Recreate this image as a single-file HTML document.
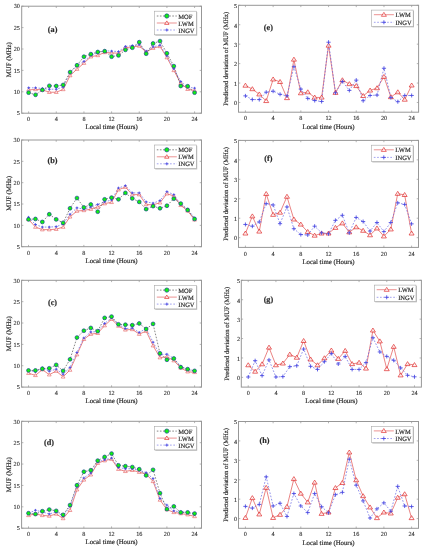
<!DOCTYPE html>
<html><head><meta charset="utf-8"><title>Figure</title>
<style>
html,body{margin:0;padding:0;background:#fff;}
body{width:432px;height:550px;overflow:hidden;}
svg{display:block;will-change:transform;filter:blur(0.4px);}
text{font-family:"Liberation Serif", serif;fill:#2a2a2a;stroke:#2a2a2a;stroke-width:0.18px;text-rendering:geometricPrecision;}
.tk{stroke-width:0.1px;}
</style></head>
<body>
<svg width="432" height="550" viewBox="0 0 432 550">
<rect width="432" height="550" fill="#fff"/>
<rect x="21.7" y="6.2" width="179.8" height="107" fill="none" stroke="#979797" stroke-width="1"/>
<path d="M28.62 113.2v-1.8M28.62 6.2v1.8M56.28 113.2v-1.8M56.28 6.2v1.8M83.94 113.2v-1.8M83.94 6.2v1.8M111.6 113.2v-1.8M111.6 6.2v1.8M139.26 113.2v-1.8M139.26 6.2v1.8M166.92 113.2v-1.8M166.92 6.2v1.8M194.58 113.2v-1.8M194.58 6.2v1.8M21.7 113.2h1.8M201.5 113.2h-1.8M21.7 91.8h1.8M201.5 91.8h-1.8M21.7 70.4h1.8M201.5 70.4h-1.8M21.7 49h1.8M201.5 49h-1.8M21.7 27.6h1.8M201.5 27.6h-1.8M21.7 6.2h1.8M201.5 6.2h-1.8" stroke="#979797" stroke-width="0.7" fill="none"/>
<text x="28.62" y="121.3" text-anchor="middle" font-size="6.2" class="tk">0</text>
<text x="56.28" y="121.3" text-anchor="middle" font-size="6.2" class="tk">4</text>
<text x="83.94" y="121.3" text-anchor="middle" font-size="6.2" class="tk">8</text>
<text x="111.6" y="121.3" text-anchor="middle" font-size="6.2" class="tk">12</text>
<text x="139.26" y="121.3" text-anchor="middle" font-size="6.2" class="tk">16</text>
<text x="166.92" y="121.3" text-anchor="middle" font-size="6.2" class="tk">20</text>
<text x="194.58" y="121.3" text-anchor="middle" font-size="6.2" class="tk">24</text>
<text x="19.9" y="115.4" text-anchor="end" font-size="6.2" class="tk">5</text>
<text x="19.9" y="94" text-anchor="end" font-size="6.2" class="tk">10</text>
<text x="19.9" y="72.6" text-anchor="end" font-size="6.2" class="tk">15</text>
<text x="19.9" y="51.2" text-anchor="end" font-size="6.2" class="tk">20</text>
<text x="19.9" y="29.8" text-anchor="end" font-size="6.2" class="tk">25</text>
<text x="19.9" y="8.4" text-anchor="end" font-size="6.2" class="tk">30</text>
<text x="111.6" y="129.1" text-anchor="middle" font-size="6.8">Local time (Hours)</text>
<text transform="translate(11.1 59.7) rotate(-90)" text-anchor="middle" font-size="6.8">MUF (MHz)</text>
<polyline points="28.62,89.87 35.53,89.45 42.45,89.87 49.36,92.23 56.28,92.23 63.19,89.45 70.11,75.54 77.02,69.12 83.94,63.12 90.85,56.7 97.77,55.42 104.68,52.42 111.6,52.85 118.52,53.28 125.43,47.72 132.35,46.86 139.26,46 146.18,52 153.09,48.14 160.01,46.43 166.92,57.56 173.84,70.4 180.75,83.24 187.67,89.23 194.58,90.52" fill="none" stroke="#e46464" stroke-width="0.8"/>
<polyline points="28.62,87.82 35.53,87.82 42.45,88.5 49.36,89.23 56.28,89.23 63.19,87.09 70.11,72.54 77.02,65.69 83.94,61.41 90.85,55.42 97.77,52.85 104.68,50.71 111.6,51.14 118.52,51.57 125.43,46.43 132.35,45.58 139.26,44.72 146.18,51.14 153.09,46.86 160.01,45.15 166.92,55.85 173.84,68.69 180.75,81.53 187.67,87.09 194.58,88.16" fill="none" stroke="#6464e4" stroke-width="0.7" stroke-dasharray="1.7 1.6"/>
<polyline points="28.62,92.66 35.53,94.8 42.45,89.87 49.36,85.81 56.28,86.02 63.19,84.95 70.11,72.11 77.02,65.26 83.94,56.7 90.85,54.14 97.77,52 104.68,51.14 111.6,56.7 118.52,55.42 125.43,49.86 132.35,47.72 139.26,42.15 146.18,53.71 153.09,43.44 160.01,41.08 166.92,53.28 173.84,66.12 180.75,86.02 187.67,86.24 194.58,92.66" fill="none" stroke="#454545" stroke-width="0.65" stroke-dasharray="1.6 1.5"/>
<path d="M28.62 88.07L26.72 91.11L30.52 91.11Z" fill="#fff" fill-opacity="0.6" stroke="#e45a5a" stroke-width="0.6"/>
<path d="M35.53 87.64L33.63 90.68L37.43 90.68Z" fill="#fff" fill-opacity="0.6" stroke="#e45a5a" stroke-width="0.6"/>
<path d="M42.45 88.07L40.55 91.11L44.35 91.11Z" fill="#fff" fill-opacity="0.6" stroke="#e45a5a" stroke-width="0.6"/>
<path d="M49.36 90.42L47.46 93.46L51.26 93.46Z" fill="#fff" fill-opacity="0.6" stroke="#e45a5a" stroke-width="0.6"/>
<path d="M56.28 90.42L54.38 93.46L58.18 93.46Z" fill="#fff" fill-opacity="0.6" stroke="#e45a5a" stroke-width="0.6"/>
<path d="M63.19 87.64L61.29 90.68L65.09 90.68Z" fill="#fff" fill-opacity="0.6" stroke="#e45a5a" stroke-width="0.6"/>
<path d="M70.11 73.73L68.21 76.77L72.01 76.77Z" fill="#fff" fill-opacity="0.6" stroke="#e45a5a" stroke-width="0.6"/>
<path d="M77.02 67.31L75.12 70.35L78.92 70.35Z" fill="#fff" fill-opacity="0.6" stroke="#e45a5a" stroke-width="0.6"/>
<path d="M83.94 61.32L82.04 64.36L85.84 64.36Z" fill="#fff" fill-opacity="0.6" stroke="#e45a5a" stroke-width="0.6"/>
<path d="M90.85 54.9L88.95 57.94L92.75 57.94Z" fill="#fff" fill-opacity="0.6" stroke="#e45a5a" stroke-width="0.6"/>
<path d="M97.77 53.62L95.87 56.66L99.67 56.66Z" fill="#fff" fill-opacity="0.6" stroke="#e45a5a" stroke-width="0.6"/>
<path d="M104.68 50.62L102.78 53.66L106.58 53.66Z" fill="#fff" fill-opacity="0.6" stroke="#e45a5a" stroke-width="0.6"/>
<path d="M111.6 51.05L109.7 54.09L113.5 54.09Z" fill="#fff" fill-opacity="0.6" stroke="#e45a5a" stroke-width="0.6"/>
<path d="M118.52 51.48L116.62 54.52L120.42 54.52Z" fill="#fff" fill-opacity="0.6" stroke="#e45a5a" stroke-width="0.6"/>
<path d="M125.43 45.91L123.53 48.95L127.33 48.95Z" fill="#fff" fill-opacity="0.6" stroke="#e45a5a" stroke-width="0.6"/>
<path d="M132.35 45.05L130.45 48.09L134.25 48.09Z" fill="#fff" fill-opacity="0.6" stroke="#e45a5a" stroke-width="0.6"/>
<path d="M139.26 44.2L137.36 47.24L141.16 47.24Z" fill="#fff" fill-opacity="0.6" stroke="#e45a5a" stroke-width="0.6"/>
<path d="M146.18 50.19L144.28 53.23L148.08 53.23Z" fill="#fff" fill-opacity="0.6" stroke="#e45a5a" stroke-width="0.6"/>
<path d="M153.09 46.34L151.19 49.38L154.99 49.38Z" fill="#fff" fill-opacity="0.6" stroke="#e45a5a" stroke-width="0.6"/>
<path d="M160.01 44.63L158.11 47.67L161.91 47.67Z" fill="#fff" fill-opacity="0.6" stroke="#e45a5a" stroke-width="0.6"/>
<path d="M166.92 55.76L165.02 58.8L168.82 58.8Z" fill="#fff" fill-opacity="0.6" stroke="#e45a5a" stroke-width="0.6"/>
<path d="M173.84 68.59L171.94 71.64L175.74 71.64Z" fill="#fff" fill-opacity="0.6" stroke="#e45a5a" stroke-width="0.6"/>
<path d="M180.75 81.44L178.85 84.48L182.65 84.48Z" fill="#fff" fill-opacity="0.6" stroke="#e45a5a" stroke-width="0.6"/>
<path d="M187.67 87.43L185.77 90.47L189.57 90.47Z" fill="#fff" fill-opacity="0.6" stroke="#e45a5a" stroke-width="0.6"/>
<path d="M194.58 88.71L192.68 91.75L196.48 91.75Z" fill="#fff" fill-opacity="0.6" stroke="#e45a5a" stroke-width="0.6"/>
<path d="M27.22 87.82h2.8M28.62 86.49v2.66" stroke="#4646e2" stroke-width="0.85"/>
<path d="M34.13 87.82h2.8M35.53 86.49v2.66" stroke="#4646e2" stroke-width="0.85"/>
<path d="M41.05 88.5h2.8M42.45 87.17v2.66" stroke="#4646e2" stroke-width="0.85"/>
<path d="M47.96 89.23h2.8M49.36 87.9v2.66" stroke="#4646e2" stroke-width="0.85"/>
<path d="M54.88 89.23h2.8M56.28 87.9v2.66" stroke="#4646e2" stroke-width="0.85"/>
<path d="M61.79 87.09h2.8M63.19 85.76v2.66" stroke="#4646e2" stroke-width="0.85"/>
<path d="M68.71 72.54h2.8M70.11 71.21v2.66" stroke="#4646e2" stroke-width="0.85"/>
<path d="M75.62 65.69h2.8M77.02 64.36v2.66" stroke="#4646e2" stroke-width="0.85"/>
<path d="M82.54 61.41h2.8M83.94 60.08v2.66" stroke="#4646e2" stroke-width="0.85"/>
<path d="M89.45 55.42h2.8M90.85 54.09v2.66" stroke="#4646e2" stroke-width="0.85"/>
<path d="M96.37 52.85h2.8M97.77 51.52v2.66" stroke="#4646e2" stroke-width="0.85"/>
<path d="M103.28 50.71h2.8M104.68 49.38v2.66" stroke="#4646e2" stroke-width="0.85"/>
<path d="M110.2 51.14h2.8M111.6 49.81v2.66" stroke="#4646e2" stroke-width="0.85"/>
<path d="M117.12 51.57h2.8M118.52 50.24v2.66" stroke="#4646e2" stroke-width="0.85"/>
<path d="M124.03 46.43h2.8M125.43 45.1v2.66" stroke="#4646e2" stroke-width="0.85"/>
<path d="M130.95 45.58h2.8M132.35 44.25v2.66" stroke="#4646e2" stroke-width="0.85"/>
<path d="M137.86 44.72h2.8M139.26 43.39v2.66" stroke="#4646e2" stroke-width="0.85"/>
<path d="M144.78 51.14h2.8M146.18 49.81v2.66" stroke="#4646e2" stroke-width="0.85"/>
<path d="M151.69 46.86h2.8M153.09 45.53v2.66" stroke="#4646e2" stroke-width="0.85"/>
<path d="M158.61 45.15h2.8M160.01 43.82v2.66" stroke="#4646e2" stroke-width="0.85"/>
<path d="M165.52 55.85h2.8M166.92 54.52v2.66" stroke="#4646e2" stroke-width="0.85"/>
<path d="M172.44 68.69h2.8M173.84 67.36v2.66" stroke="#4646e2" stroke-width="0.85"/>
<path d="M179.35 81.53h2.8M180.75 80.2v2.66" stroke="#4646e2" stroke-width="0.85"/>
<path d="M186.27 87.09h2.8M187.67 85.76v2.66" stroke="#4646e2" stroke-width="0.85"/>
<path d="M193.18 88.16h2.8M194.58 86.83v2.66" stroke="#4646e2" stroke-width="0.85"/>
<circle cx="28.62" cy="92.66" r="1.9" fill="#10f010" stroke="#1a4690" stroke-width="0.7"/>
<circle cx="35.53" cy="94.8" r="1.9" fill="#10f010" stroke="#1a4690" stroke-width="0.7"/>
<circle cx="42.45" cy="89.87" r="1.9" fill="#10f010" stroke="#1a4690" stroke-width="0.7"/>
<circle cx="49.36" cy="85.81" r="1.9" fill="#10f010" stroke="#1a4690" stroke-width="0.7"/>
<circle cx="56.28" cy="86.02" r="1.9" fill="#10f010" stroke="#1a4690" stroke-width="0.7"/>
<circle cx="63.19" cy="84.95" r="1.9" fill="#10f010" stroke="#1a4690" stroke-width="0.7"/>
<circle cx="70.11" cy="72.11" r="1.9" fill="#10f010" stroke="#1a4690" stroke-width="0.7"/>
<circle cx="77.02" cy="65.26" r="1.9" fill="#10f010" stroke="#1a4690" stroke-width="0.7"/>
<circle cx="83.94" cy="56.7" r="1.9" fill="#10f010" stroke="#1a4690" stroke-width="0.7"/>
<circle cx="90.85" cy="54.14" r="1.9" fill="#10f010" stroke="#1a4690" stroke-width="0.7"/>
<circle cx="97.77" cy="52" r="1.9" fill="#10f010" stroke="#1a4690" stroke-width="0.7"/>
<circle cx="104.68" cy="51.14" r="1.9" fill="#10f010" stroke="#1a4690" stroke-width="0.7"/>
<circle cx="111.6" cy="56.7" r="1.9" fill="#10f010" stroke="#1a4690" stroke-width="0.7"/>
<circle cx="118.52" cy="55.42" r="1.9" fill="#10f010" stroke="#1a4690" stroke-width="0.7"/>
<circle cx="125.43" cy="49.86" r="1.9" fill="#10f010" stroke="#1a4690" stroke-width="0.7"/>
<circle cx="132.35" cy="47.72" r="1.9" fill="#10f010" stroke="#1a4690" stroke-width="0.7"/>
<circle cx="139.26" cy="42.15" r="1.9" fill="#10f010" stroke="#1a4690" stroke-width="0.7"/>
<circle cx="146.18" cy="53.71" r="1.9" fill="#10f010" stroke="#1a4690" stroke-width="0.7"/>
<circle cx="153.09" cy="43.44" r="1.9" fill="#10f010" stroke="#1a4690" stroke-width="0.7"/>
<circle cx="160.01" cy="41.08" r="1.9" fill="#10f010" stroke="#1a4690" stroke-width="0.7"/>
<circle cx="166.92" cy="53.28" r="1.9" fill="#10f010" stroke="#1a4690" stroke-width="0.7"/>
<circle cx="173.84" cy="66.12" r="1.9" fill="#10f010" stroke="#1a4690" stroke-width="0.7"/>
<circle cx="180.75" cy="86.02" r="1.9" fill="#10f010" stroke="#1a4690" stroke-width="0.7"/>
<circle cx="187.67" cy="86.24" r="1.9" fill="#10f010" stroke="#1a4690" stroke-width="0.7"/>
<circle cx="194.58" cy="92.66" r="1.9" fill="#10f010" stroke="#1a4690" stroke-width="0.7"/>
<rect x="155.3" y="12" width="41.9" height="23.6" fill="#b4b4b4"/>
<rect x="154.5" y="11.2" width="41.9" height="23.6" fill="#fff" stroke="#a8a8a8" stroke-width="0.6"/>
<path d="M156.8 16H176.8" stroke="#454545" stroke-width="0.65" stroke-dasharray="1.6 1.5"/>
<circle cx="166.8" cy="16" r="2.15" fill="#10f010" stroke="#1a4690" stroke-width="0.7"/>
<text x="178.3" y="18.6" font-size="6.5">MOF</text>
<path d="M156.8 23H176.8" stroke="#e46464" stroke-width="0.7"/>
<path d="M166.8 20.91L164.6 24.43L169 24.43Z" fill="#fff" fill-opacity="0.6" stroke="#e02828" stroke-width="0.65"/>
<text x="178.3" y="25.6" font-size="6.5">LWM</text>
<path d="M156.8 30H176.8" stroke="#6464e4" stroke-width="0.6" stroke-dasharray="1.7 1.6"/>
<path d="M165.2 30h3.2M166.8 28.48v3.04" stroke="#4646e2" stroke-width="0.85"/>
<text x="178.3" y="32.6" font-size="6.5">INGV</text>
<text x="52.6" y="32.3" text-anchor="middle" font-size="8.2" font-weight="bold">(a)</text>
<rect x="21.6" y="140" width="179.9" height="106.7" fill="none" stroke="#979797" stroke-width="1"/>
<path d="M28.52 246.7v-1.8M28.52 140v1.8M56.2 246.7v-1.8M56.2 140v1.8M83.87 246.7v-1.8M83.87 140v1.8M111.55 246.7v-1.8M111.55 140v1.8M139.23 246.7v-1.8M139.23 140v1.8M166.9 246.7v-1.8M166.9 140v1.8M194.58 246.7v-1.8M194.58 140v1.8M21.6 246.7h1.8M201.5 246.7h-1.8M21.6 225.36h1.8M201.5 225.36h-1.8M21.6 204.02h1.8M201.5 204.02h-1.8M21.6 182.68h1.8M201.5 182.68h-1.8M21.6 161.34h1.8M201.5 161.34h-1.8M21.6 140h1.8M201.5 140h-1.8" stroke="#979797" stroke-width="0.7" fill="none"/>
<text x="28.52" y="254.8" text-anchor="middle" font-size="6.2" class="tk">0</text>
<text x="56.2" y="254.8" text-anchor="middle" font-size="6.2" class="tk">4</text>
<text x="83.87" y="254.8" text-anchor="middle" font-size="6.2" class="tk">8</text>
<text x="111.55" y="254.8" text-anchor="middle" font-size="6.2" class="tk">12</text>
<text x="139.23" y="254.8" text-anchor="middle" font-size="6.2" class="tk">16</text>
<text x="166.9" y="254.8" text-anchor="middle" font-size="6.2" class="tk">20</text>
<text x="194.58" y="254.8" text-anchor="middle" font-size="6.2" class="tk">24</text>
<text x="19.8" y="248.9" text-anchor="end" font-size="6.2" class="tk">5</text>
<text x="19.8" y="227.56" text-anchor="end" font-size="6.2" class="tk">10</text>
<text x="19.8" y="206.22" text-anchor="end" font-size="6.2" class="tk">15</text>
<text x="19.8" y="184.88" text-anchor="end" font-size="6.2" class="tk">20</text>
<text x="19.8" y="163.54" text-anchor="end" font-size="6.2" class="tk">25</text>
<text x="19.8" y="142.2" text-anchor="end" font-size="6.2" class="tk">30</text>
<text x="111.55" y="262.6" text-anchor="middle" font-size="6.8">Local time (Hours)</text>
<text transform="translate(11 193.35) rotate(-90)" text-anchor="middle" font-size="6.8">MUF (MHz)</text>
<polyline points="28.52,219.38 35.44,227.07 42.36,229.63 49.28,229.63 56.2,229.2 63.12,227.07 70.03,216.82 76.95,211.06 83.87,210.42 90.79,209.14 97.71,207.01 104.63,203.59 111.55,202.31 118.47,189.72 125.39,187.16 132.31,194.63 139.23,194.63 146.15,204.45 153.07,204.87 159.98,202.74 166.9,193.78 173.82,195.91 180.74,205.3 187.66,210.85 194.58,219.81" fill="none" stroke="#e46464" stroke-width="0.8"/>
<polyline points="28.52,217.25 35.44,224.51 42.36,227.07 49.28,227.07 56.2,226.64 63.12,224.08 70.03,214.26 76.95,207.86 83.87,209.14 90.79,207.01 97.71,204.45 104.63,201.89 111.55,199.97 118.47,188.01 125.39,185.67 132.31,192.92 139.23,192.92 146.15,201.89 153.07,203.17 159.98,200.61 166.9,191.64 173.82,194.63 180.74,204.45 187.66,209.14 194.58,218.1" fill="none" stroke="#6464e4" stroke-width="0.7" stroke-dasharray="1.7 1.6"/>
<polyline points="28.52,219.38 35.44,218.96 42.36,221.95 49.28,214.26 56.2,219.38 63.12,222.8 70.03,208.29 76.95,198.04 83.87,207.43 90.79,204.45 97.71,211.7 104.63,199.33 111.55,197.62 118.47,199.33 125.39,192.92 132.31,198.47 139.23,201.89 146.15,209.14 153.07,206.15 159.98,208.29 166.9,205.73 173.82,198.69 180.74,203.59 187.66,210 194.58,218.96" fill="none" stroke="#454545" stroke-width="0.65" stroke-dasharray="1.6 1.5"/>
<path d="M28.52 217.58L26.62 220.62L30.42 220.62Z" fill="#fff" fill-opacity="0.6" stroke="#e45a5a" stroke-width="0.6"/>
<path d="M35.44 225.26L33.54 228.3L37.34 228.3Z" fill="#fff" fill-opacity="0.6" stroke="#e45a5a" stroke-width="0.6"/>
<path d="M42.36 227.82L40.46 230.86L44.26 230.86Z" fill="#fff" fill-opacity="0.6" stroke="#e45a5a" stroke-width="0.6"/>
<path d="M49.28 227.82L47.38 230.86L51.18 230.86Z" fill="#fff" fill-opacity="0.6" stroke="#e45a5a" stroke-width="0.6"/>
<path d="M56.2 227.4L54.3 230.44L58.1 230.44Z" fill="#fff" fill-opacity="0.6" stroke="#e45a5a" stroke-width="0.6"/>
<path d="M63.12 225.26L61.22 228.3L65.02 228.3Z" fill="#fff" fill-opacity="0.6" stroke="#e45a5a" stroke-width="0.6"/>
<path d="M70.03 215.02L68.13 218.06L71.93 218.06Z" fill="#fff" fill-opacity="0.6" stroke="#e45a5a" stroke-width="0.6"/>
<path d="M76.95 209.26L75.05 212.3L78.85 212.3Z" fill="#fff" fill-opacity="0.6" stroke="#e45a5a" stroke-width="0.6"/>
<path d="M83.87 208.62L81.97 211.66L85.77 211.66Z" fill="#fff" fill-opacity="0.6" stroke="#e45a5a" stroke-width="0.6"/>
<path d="M90.79 207.34L88.89 210.38L92.69 210.38Z" fill="#fff" fill-opacity="0.6" stroke="#e45a5a" stroke-width="0.6"/>
<path d="M97.71 205.2L95.81 208.24L99.61 208.24Z" fill="#fff" fill-opacity="0.6" stroke="#e45a5a" stroke-width="0.6"/>
<path d="M104.63 201.79L102.73 204.83L106.53 204.83Z" fill="#fff" fill-opacity="0.6" stroke="#e45a5a" stroke-width="0.6"/>
<path d="M111.55 200.51L109.65 203.55L113.45 203.55Z" fill="#fff" fill-opacity="0.6" stroke="#e45a5a" stroke-width="0.6"/>
<path d="M118.47 187.92L116.57 190.96L120.37 190.96Z" fill="#fff" fill-opacity="0.6" stroke="#e45a5a" stroke-width="0.6"/>
<path d="M125.39 185.36L123.49 188.4L127.29 188.4Z" fill="#fff" fill-opacity="0.6" stroke="#e45a5a" stroke-width="0.6"/>
<path d="M132.31 192.83L130.41 195.87L134.21 195.87Z" fill="#fff" fill-opacity="0.6" stroke="#e45a5a" stroke-width="0.6"/>
<path d="M139.23 192.83L137.33 195.87L141.13 195.87Z" fill="#fff" fill-opacity="0.6" stroke="#e45a5a" stroke-width="0.6"/>
<path d="M146.15 202.64L144.25 205.68L148.05 205.68Z" fill="#fff" fill-opacity="0.6" stroke="#e45a5a" stroke-width="0.6"/>
<path d="M153.07 203.07L151.17 206.11L154.97 206.11Z" fill="#fff" fill-opacity="0.6" stroke="#e45a5a" stroke-width="0.6"/>
<path d="M159.98 200.93L158.08 203.97L161.88 203.97Z" fill="#fff" fill-opacity="0.6" stroke="#e45a5a" stroke-width="0.6"/>
<path d="M166.9 191.97L165 195.01L168.8 195.01Z" fill="#fff" fill-opacity="0.6" stroke="#e45a5a" stroke-width="0.6"/>
<path d="M173.82 194.11L171.92 197.15L175.72 197.15Z" fill="#fff" fill-opacity="0.6" stroke="#e45a5a" stroke-width="0.6"/>
<path d="M180.74 203.5L178.84 206.54L182.64 206.54Z" fill="#fff" fill-opacity="0.6" stroke="#e45a5a" stroke-width="0.6"/>
<path d="M187.66 209.04L185.76 212.08L189.56 212.08Z" fill="#fff" fill-opacity="0.6" stroke="#e45a5a" stroke-width="0.6"/>
<path d="M194.58 218.01L192.68 221.05L196.48 221.05Z" fill="#fff" fill-opacity="0.6" stroke="#e45a5a" stroke-width="0.6"/>
<path d="M27.12 217.25h2.8M28.52 215.92v2.66" stroke="#4646e2" stroke-width="0.85"/>
<path d="M34.04 224.51h2.8M35.44 223.18v2.66" stroke="#4646e2" stroke-width="0.85"/>
<path d="M40.96 227.07h2.8M42.36 225.74v2.66" stroke="#4646e2" stroke-width="0.85"/>
<path d="M47.88 227.07h2.8M49.28 225.74v2.66" stroke="#4646e2" stroke-width="0.85"/>
<path d="M54.8 226.64h2.8M56.2 225.31v2.66" stroke="#4646e2" stroke-width="0.85"/>
<path d="M61.72 224.08h2.8M63.12 222.75v2.66" stroke="#4646e2" stroke-width="0.85"/>
<path d="M68.63 214.26h2.8M70.03 212.93v2.66" stroke="#4646e2" stroke-width="0.85"/>
<path d="M75.55 207.86h2.8M76.95 206.53v2.66" stroke="#4646e2" stroke-width="0.85"/>
<path d="M82.47 209.14h2.8M83.87 207.81v2.66" stroke="#4646e2" stroke-width="0.85"/>
<path d="M89.39 207.01h2.8M90.79 205.68v2.66" stroke="#4646e2" stroke-width="0.85"/>
<path d="M96.31 204.45h2.8M97.71 203.12v2.66" stroke="#4646e2" stroke-width="0.85"/>
<path d="M103.23 201.89h2.8M104.63 200.56v2.66" stroke="#4646e2" stroke-width="0.85"/>
<path d="M110.15 199.97h2.8M111.55 198.64v2.66" stroke="#4646e2" stroke-width="0.85"/>
<path d="M117.07 188.01h2.8M118.47 186.68v2.66" stroke="#4646e2" stroke-width="0.85"/>
<path d="M123.99 185.67h2.8M125.39 184.34v2.66" stroke="#4646e2" stroke-width="0.85"/>
<path d="M130.91 192.92h2.8M132.31 191.59v2.66" stroke="#4646e2" stroke-width="0.85"/>
<path d="M137.83 192.92h2.8M139.23 191.59v2.66" stroke="#4646e2" stroke-width="0.85"/>
<path d="M144.75 201.89h2.8M146.15 200.56v2.66" stroke="#4646e2" stroke-width="0.85"/>
<path d="M151.67 203.17h2.8M153.07 201.84v2.66" stroke="#4646e2" stroke-width="0.85"/>
<path d="M158.58 200.61h2.8M159.98 199.28v2.66" stroke="#4646e2" stroke-width="0.85"/>
<path d="M165.5 191.64h2.8M166.9 190.31v2.66" stroke="#4646e2" stroke-width="0.85"/>
<path d="M172.42 194.63h2.8M173.82 193.3v2.66" stroke="#4646e2" stroke-width="0.85"/>
<path d="M179.34 204.45h2.8M180.74 203.12v2.66" stroke="#4646e2" stroke-width="0.85"/>
<path d="M186.26 209.14h2.8M187.66 207.81v2.66" stroke="#4646e2" stroke-width="0.85"/>
<path d="M193.18 218.1h2.8M194.58 216.77v2.66" stroke="#4646e2" stroke-width="0.85"/>
<circle cx="28.52" cy="219.38" r="1.9" fill="#10f010" stroke="#1a4690" stroke-width="0.7"/>
<circle cx="35.44" cy="218.96" r="1.9" fill="#10f010" stroke="#1a4690" stroke-width="0.7"/>
<circle cx="42.36" cy="221.95" r="1.9" fill="#10f010" stroke="#1a4690" stroke-width="0.7"/>
<circle cx="49.28" cy="214.26" r="1.9" fill="#10f010" stroke="#1a4690" stroke-width="0.7"/>
<circle cx="56.2" cy="219.38" r="1.9" fill="#10f010" stroke="#1a4690" stroke-width="0.7"/>
<circle cx="63.12" cy="222.8" r="1.9" fill="#10f010" stroke="#1a4690" stroke-width="0.7"/>
<circle cx="70.03" cy="208.29" r="1.9" fill="#10f010" stroke="#1a4690" stroke-width="0.7"/>
<circle cx="76.95" cy="198.04" r="1.9" fill="#10f010" stroke="#1a4690" stroke-width="0.7"/>
<circle cx="83.87" cy="207.43" r="1.9" fill="#10f010" stroke="#1a4690" stroke-width="0.7"/>
<circle cx="90.79" cy="204.45" r="1.9" fill="#10f010" stroke="#1a4690" stroke-width="0.7"/>
<circle cx="97.71" cy="211.7" r="1.9" fill="#10f010" stroke="#1a4690" stroke-width="0.7"/>
<circle cx="104.63" cy="199.33" r="1.9" fill="#10f010" stroke="#1a4690" stroke-width="0.7"/>
<circle cx="111.55" cy="197.62" r="1.9" fill="#10f010" stroke="#1a4690" stroke-width="0.7"/>
<circle cx="118.47" cy="199.33" r="1.9" fill="#10f010" stroke="#1a4690" stroke-width="0.7"/>
<circle cx="125.39" cy="192.92" r="1.9" fill="#10f010" stroke="#1a4690" stroke-width="0.7"/>
<circle cx="132.31" cy="198.47" r="1.9" fill="#10f010" stroke="#1a4690" stroke-width="0.7"/>
<circle cx="139.23" cy="201.89" r="1.9" fill="#10f010" stroke="#1a4690" stroke-width="0.7"/>
<circle cx="146.15" cy="209.14" r="1.9" fill="#10f010" stroke="#1a4690" stroke-width="0.7"/>
<circle cx="153.07" cy="206.15" r="1.9" fill="#10f010" stroke="#1a4690" stroke-width="0.7"/>
<circle cx="159.98" cy="208.29" r="1.9" fill="#10f010" stroke="#1a4690" stroke-width="0.7"/>
<circle cx="166.9" cy="205.73" r="1.9" fill="#10f010" stroke="#1a4690" stroke-width="0.7"/>
<circle cx="173.82" cy="198.69" r="1.9" fill="#10f010" stroke="#1a4690" stroke-width="0.7"/>
<circle cx="180.74" cy="203.59" r="1.9" fill="#10f010" stroke="#1a4690" stroke-width="0.7"/>
<circle cx="187.66" cy="210" r="1.9" fill="#10f010" stroke="#1a4690" stroke-width="0.7"/>
<circle cx="194.58" cy="218.96" r="1.9" fill="#10f010" stroke="#1a4690" stroke-width="0.7"/>
<rect x="155.3" y="145.8" width="41.9" height="23.6" fill="#b4b4b4"/>
<rect x="154.5" y="145" width="41.9" height="23.6" fill="#fff" stroke="#a8a8a8" stroke-width="0.6"/>
<path d="M156.8 149.8H176.8" stroke="#454545" stroke-width="0.65" stroke-dasharray="1.6 1.5"/>
<circle cx="166.8" cy="149.8" r="2.15" fill="#10f010" stroke="#1a4690" stroke-width="0.7"/>
<text x="178.3" y="152.4" font-size="6.5">MOF</text>
<path d="M156.8 156.8H176.8" stroke="#e46464" stroke-width="0.7"/>
<path d="M166.8 154.71L164.6 158.23L169 158.23Z" fill="#fff" fill-opacity="0.6" stroke="#e02828" stroke-width="0.65"/>
<text x="178.3" y="159.4" font-size="6.5">LWM</text>
<path d="M156.8 163.8H176.8" stroke="#6464e4" stroke-width="0.6" stroke-dasharray="1.7 1.6"/>
<path d="M165.2 163.8h3.2M166.8 162.28v3.04" stroke="#4646e2" stroke-width="0.85"/>
<text x="178.3" y="166.4" font-size="6.5">INGV</text>
<text x="52.6" y="162.6" text-anchor="middle" font-size="8.2" font-weight="bold">(b)</text>
<rect x="21.6" y="280.3" width="179.9" height="106.8" fill="none" stroke="#979797" stroke-width="1"/>
<path d="M28.52 387.1v-1.8M28.52 280.3v1.8M56.2 387.1v-1.8M56.2 280.3v1.8M83.87 387.1v-1.8M83.87 280.3v1.8M111.55 387.1v-1.8M111.55 280.3v1.8M139.23 387.1v-1.8M139.23 280.3v1.8M166.9 387.1v-1.8M166.9 280.3v1.8M194.58 387.1v-1.8M194.58 280.3v1.8M21.6 387.1h1.8M201.5 387.1h-1.8M21.6 365.74h1.8M201.5 365.74h-1.8M21.6 344.38h1.8M201.5 344.38h-1.8M21.6 323.02h1.8M201.5 323.02h-1.8M21.6 301.66h1.8M201.5 301.66h-1.8M21.6 280.3h1.8M201.5 280.3h-1.8" stroke="#979797" stroke-width="0.7" fill="none"/>
<text x="28.52" y="395.2" text-anchor="middle" font-size="6.2" class="tk">0</text>
<text x="56.2" y="395.2" text-anchor="middle" font-size="6.2" class="tk">4</text>
<text x="83.87" y="395.2" text-anchor="middle" font-size="6.2" class="tk">8</text>
<text x="111.55" y="395.2" text-anchor="middle" font-size="6.2" class="tk">12</text>
<text x="139.23" y="395.2" text-anchor="middle" font-size="6.2" class="tk">16</text>
<text x="166.9" y="395.2" text-anchor="middle" font-size="6.2" class="tk">20</text>
<text x="194.58" y="395.2" text-anchor="middle" font-size="6.2" class="tk">24</text>
<text x="19.8" y="389.3" text-anchor="end" font-size="6.2" class="tk">5</text>
<text x="19.8" y="367.94" text-anchor="end" font-size="6.2" class="tk">10</text>
<text x="19.8" y="346.58" text-anchor="end" font-size="6.2" class="tk">15</text>
<text x="19.8" y="325.22" text-anchor="end" font-size="6.2" class="tk">20</text>
<text x="19.8" y="303.86" text-anchor="end" font-size="6.2" class="tk">25</text>
<text x="19.8" y="282.5" text-anchor="end" font-size="6.2" class="tk">30</text>
<text x="111.55" y="403" text-anchor="middle" font-size="6.8">Local time (Hours)</text>
<text transform="translate(11 333.7) rotate(-90)" text-anchor="middle" font-size="6.8">MUF (MHz)</text>
<polyline points="28.52,373.22 35.44,375.35 42.36,369.58 49.28,374.71 56.2,371.08 63.12,376.85 70.03,370.01 76.95,354.63 83.87,339.25 90.79,334.13 97.71,333.27 104.63,325.58 111.55,319.18 118.47,326.01 125.39,329.86 132.31,329.43 139.23,334.13 146.15,331.14 153.07,345.66 159.98,357.62 166.9,356.77 173.82,360.61 180.74,367.88 187.66,371.72 194.58,372.36" fill="none" stroke="#e46464" stroke-width="0.8"/>
<polyline points="28.52,370.44 35.44,371.72 42.36,367.88 49.28,371.29 56.2,369.16 63.12,374.28 70.03,367.45 76.95,352.5 83.87,337.97 90.79,331.99 97.71,331.56 104.63,323.45 111.55,317.89 118.47,324.3 125.39,328.57 132.31,328.15 139.23,332.42 146.15,328.57 153.07,342.24 159.98,354.63 166.9,354.21 173.82,358.48 180.74,366.17 187.66,369.58 194.58,370.87" fill="none" stroke="#6464e4" stroke-width="0.7" stroke-dasharray="1.7 1.6"/>
<polyline points="28.52,370.44 35.44,370.44 42.36,368.73 49.28,368.3 56.2,364.89 63.12,370.87 70.03,359.33 76.95,337.54 83.87,330.71 90.79,327.93 97.71,331.14 104.63,317.89 111.55,316.61 118.47,324.3 125.39,324.73 132.31,325.16 139.23,323.45 146.15,329 153.07,323.87 159.98,353.35 166.9,359.76 173.82,358.48 180.74,367.24 187.66,369.16 194.58,370.87" fill="none" stroke="#454545" stroke-width="0.65" stroke-dasharray="1.6 1.5"/>
<path d="M28.52 371.41L26.62 374.45L30.42 374.45Z" fill="#fff" fill-opacity="0.6" stroke="#e45a5a" stroke-width="0.6"/>
<path d="M35.44 373.55L33.54 376.59L37.34 376.59Z" fill="#fff" fill-opacity="0.6" stroke="#e45a5a" stroke-width="0.6"/>
<path d="M42.36 367.78L40.46 370.82L44.26 370.82Z" fill="#fff" fill-opacity="0.6" stroke="#e45a5a" stroke-width="0.6"/>
<path d="M49.28 372.91L47.38 375.95L51.18 375.95Z" fill="#fff" fill-opacity="0.6" stroke="#e45a5a" stroke-width="0.6"/>
<path d="M56.2 369.28L54.3 372.32L58.1 372.32Z" fill="#fff" fill-opacity="0.6" stroke="#e45a5a" stroke-width="0.6"/>
<path d="M63.12 375.04L61.22 378.08L65.02 378.08Z" fill="#fff" fill-opacity="0.6" stroke="#e45a5a" stroke-width="0.6"/>
<path d="M70.03 368.21L68.13 371.25L71.93 371.25Z" fill="#fff" fill-opacity="0.6" stroke="#e45a5a" stroke-width="0.6"/>
<path d="M76.95 352.83L75.05 355.87L78.85 355.87Z" fill="#fff" fill-opacity="0.6" stroke="#e45a5a" stroke-width="0.6"/>
<path d="M83.87 337.45L81.97 340.49L85.77 340.49Z" fill="#fff" fill-opacity="0.6" stroke="#e45a5a" stroke-width="0.6"/>
<path d="M90.79 332.32L88.89 335.36L92.69 335.36Z" fill="#fff" fill-opacity="0.6" stroke="#e45a5a" stroke-width="0.6"/>
<path d="M97.71 331.47L95.81 334.51L99.61 334.51Z" fill="#fff" fill-opacity="0.6" stroke="#e45a5a" stroke-width="0.6"/>
<path d="M104.63 323.78L102.73 326.82L106.53 326.82Z" fill="#fff" fill-opacity="0.6" stroke="#e45a5a" stroke-width="0.6"/>
<path d="M111.55 317.37L109.65 320.41L113.45 320.41Z" fill="#fff" fill-opacity="0.6" stroke="#e45a5a" stroke-width="0.6"/>
<path d="M118.47 324.21L116.57 327.25L120.37 327.25Z" fill="#fff" fill-opacity="0.6" stroke="#e45a5a" stroke-width="0.6"/>
<path d="M125.39 328.05L123.49 331.09L127.29 331.09Z" fill="#fff" fill-opacity="0.6" stroke="#e45a5a" stroke-width="0.6"/>
<path d="M132.31 327.62L130.41 330.66L134.21 330.66Z" fill="#fff" fill-opacity="0.6" stroke="#e45a5a" stroke-width="0.6"/>
<path d="M139.23 332.32L137.33 335.36L141.13 335.36Z" fill="#fff" fill-opacity="0.6" stroke="#e45a5a" stroke-width="0.6"/>
<path d="M146.15 329.33L144.25 332.37L148.05 332.37Z" fill="#fff" fill-opacity="0.6" stroke="#e45a5a" stroke-width="0.6"/>
<path d="M153.07 343.86L151.17 346.9L154.97 346.9Z" fill="#fff" fill-opacity="0.6" stroke="#e45a5a" stroke-width="0.6"/>
<path d="M159.98 355.82L158.08 358.86L161.88 358.86Z" fill="#fff" fill-opacity="0.6" stroke="#e45a5a" stroke-width="0.6"/>
<path d="M166.9 354.96L165 358L168.8 358Z" fill="#fff" fill-opacity="0.6" stroke="#e45a5a" stroke-width="0.6"/>
<path d="M173.82 358.81L171.92 361.85L175.72 361.85Z" fill="#fff" fill-opacity="0.6" stroke="#e45a5a" stroke-width="0.6"/>
<path d="M180.74 366.07L178.84 369.11L182.64 369.11Z" fill="#fff" fill-opacity="0.6" stroke="#e45a5a" stroke-width="0.6"/>
<path d="M187.66 369.92L185.76 372.96L189.56 372.96Z" fill="#fff" fill-opacity="0.6" stroke="#e45a5a" stroke-width="0.6"/>
<path d="M194.58 370.56L192.68 373.6L196.48 373.6Z" fill="#fff" fill-opacity="0.6" stroke="#e45a5a" stroke-width="0.6"/>
<path d="M27.12 370.44h2.8M28.52 369.11v2.66" stroke="#4646e2" stroke-width="0.85"/>
<path d="M34.04 371.72h2.8M35.44 370.39v2.66" stroke="#4646e2" stroke-width="0.85"/>
<path d="M40.96 367.88h2.8M42.36 366.55v2.66" stroke="#4646e2" stroke-width="0.85"/>
<path d="M47.88 371.29h2.8M49.28 369.96v2.66" stroke="#4646e2" stroke-width="0.85"/>
<path d="M54.8 369.16h2.8M56.2 367.83v2.66" stroke="#4646e2" stroke-width="0.85"/>
<path d="M61.72 374.28h2.8M63.12 372.95v2.66" stroke="#4646e2" stroke-width="0.85"/>
<path d="M68.63 367.45h2.8M70.03 366.12v2.66" stroke="#4646e2" stroke-width="0.85"/>
<path d="M75.55 352.5h2.8M76.95 351.17v2.66" stroke="#4646e2" stroke-width="0.85"/>
<path d="M82.47 337.97h2.8M83.87 336.64v2.66" stroke="#4646e2" stroke-width="0.85"/>
<path d="M89.39 331.99h2.8M90.79 330.66v2.66" stroke="#4646e2" stroke-width="0.85"/>
<path d="M96.31 331.56h2.8M97.71 330.23v2.66" stroke="#4646e2" stroke-width="0.85"/>
<path d="M103.23 323.45h2.8M104.63 322.12v2.66" stroke="#4646e2" stroke-width="0.85"/>
<path d="M110.15 317.89h2.8M111.55 316.56v2.66" stroke="#4646e2" stroke-width="0.85"/>
<path d="M117.07 324.3h2.8M118.47 322.97v2.66" stroke="#4646e2" stroke-width="0.85"/>
<path d="M123.99 328.57h2.8M125.39 327.24v2.66" stroke="#4646e2" stroke-width="0.85"/>
<path d="M130.91 328.15h2.8M132.31 326.82v2.66" stroke="#4646e2" stroke-width="0.85"/>
<path d="M137.83 332.42h2.8M139.23 331.09v2.66" stroke="#4646e2" stroke-width="0.85"/>
<path d="M144.75 328.57h2.8M146.15 327.24v2.66" stroke="#4646e2" stroke-width="0.85"/>
<path d="M151.67 342.24h2.8M153.07 340.91v2.66" stroke="#4646e2" stroke-width="0.85"/>
<path d="M158.58 354.63h2.8M159.98 353.3v2.66" stroke="#4646e2" stroke-width="0.85"/>
<path d="M165.5 354.21h2.8M166.9 352.88v2.66" stroke="#4646e2" stroke-width="0.85"/>
<path d="M172.42 358.48h2.8M173.82 357.15v2.66" stroke="#4646e2" stroke-width="0.85"/>
<path d="M179.34 366.17h2.8M180.74 364.84v2.66" stroke="#4646e2" stroke-width="0.85"/>
<path d="M186.26 369.58h2.8M187.66 368.25v2.66" stroke="#4646e2" stroke-width="0.85"/>
<path d="M193.18 370.87h2.8M194.58 369.54v2.66" stroke="#4646e2" stroke-width="0.85"/>
<circle cx="28.52" cy="370.44" r="1.9" fill="#10f010" stroke="#1a4690" stroke-width="0.7"/>
<circle cx="35.44" cy="370.44" r="1.9" fill="#10f010" stroke="#1a4690" stroke-width="0.7"/>
<circle cx="42.36" cy="368.73" r="1.9" fill="#10f010" stroke="#1a4690" stroke-width="0.7"/>
<circle cx="49.28" cy="368.3" r="1.9" fill="#10f010" stroke="#1a4690" stroke-width="0.7"/>
<circle cx="56.2" cy="364.89" r="1.9" fill="#10f010" stroke="#1a4690" stroke-width="0.7"/>
<circle cx="63.12" cy="370.87" r="1.9" fill="#10f010" stroke="#1a4690" stroke-width="0.7"/>
<circle cx="70.03" cy="359.33" r="1.9" fill="#10f010" stroke="#1a4690" stroke-width="0.7"/>
<circle cx="76.95" cy="337.54" r="1.9" fill="#10f010" stroke="#1a4690" stroke-width="0.7"/>
<circle cx="83.87" cy="330.71" r="1.9" fill="#10f010" stroke="#1a4690" stroke-width="0.7"/>
<circle cx="90.79" cy="327.93" r="1.9" fill="#10f010" stroke="#1a4690" stroke-width="0.7"/>
<circle cx="97.71" cy="331.14" r="1.9" fill="#10f010" stroke="#1a4690" stroke-width="0.7"/>
<circle cx="104.63" cy="317.89" r="1.9" fill="#10f010" stroke="#1a4690" stroke-width="0.7"/>
<circle cx="111.55" cy="316.61" r="1.9" fill="#10f010" stroke="#1a4690" stroke-width="0.7"/>
<circle cx="118.47" cy="324.3" r="1.9" fill="#10f010" stroke="#1a4690" stroke-width="0.7"/>
<circle cx="125.39" cy="324.73" r="1.9" fill="#10f010" stroke="#1a4690" stroke-width="0.7"/>
<circle cx="132.31" cy="325.16" r="1.9" fill="#10f010" stroke="#1a4690" stroke-width="0.7"/>
<circle cx="139.23" cy="323.45" r="1.9" fill="#10f010" stroke="#1a4690" stroke-width="0.7"/>
<circle cx="146.15" cy="329" r="1.9" fill="#10f010" stroke="#1a4690" stroke-width="0.7"/>
<circle cx="153.07" cy="323.87" r="1.9" fill="#10f010" stroke="#1a4690" stroke-width="0.7"/>
<circle cx="159.98" cy="353.35" r="1.9" fill="#10f010" stroke="#1a4690" stroke-width="0.7"/>
<circle cx="166.9" cy="359.76" r="1.9" fill="#10f010" stroke="#1a4690" stroke-width="0.7"/>
<circle cx="173.82" cy="358.48" r="1.9" fill="#10f010" stroke="#1a4690" stroke-width="0.7"/>
<circle cx="180.74" cy="367.24" r="1.9" fill="#10f010" stroke="#1a4690" stroke-width="0.7"/>
<circle cx="187.66" cy="369.16" r="1.9" fill="#10f010" stroke="#1a4690" stroke-width="0.7"/>
<circle cx="194.58" cy="370.87" r="1.9" fill="#10f010" stroke="#1a4690" stroke-width="0.7"/>
<rect x="155.3" y="286.1" width="41.9" height="23.6" fill="#b4b4b4"/>
<rect x="154.5" y="285.3" width="41.9" height="23.6" fill="#fff" stroke="#a8a8a8" stroke-width="0.6"/>
<path d="M156.8 290.1H176.8" stroke="#454545" stroke-width="0.65" stroke-dasharray="1.6 1.5"/>
<circle cx="166.8" cy="290.1" r="2.15" fill="#10f010" stroke="#1a4690" stroke-width="0.7"/>
<text x="178.3" y="292.7" font-size="6.5">MOF</text>
<path d="M156.8 297.1H176.8" stroke="#e46464" stroke-width="0.7"/>
<path d="M166.8 295.01L164.6 298.53L169 298.53Z" fill="#fff" fill-opacity="0.6" stroke="#e02828" stroke-width="0.65"/>
<text x="178.3" y="299.7" font-size="6.5">LWM</text>
<path d="M156.8 304.1H176.8" stroke="#6464e4" stroke-width="0.6" stroke-dasharray="1.7 1.6"/>
<path d="M165.2 304.1h3.2M166.8 302.58v3.04" stroke="#4646e2" stroke-width="0.85"/>
<text x="178.3" y="306.7" font-size="6.5">INGV</text>
<text x="52.5" y="304.9" text-anchor="middle" font-size="8.2" font-weight="bold">(c)</text>
<rect x="21.6" y="421.3" width="179.9" height="106.9" fill="none" stroke="#979797" stroke-width="1"/>
<path d="M28.52 528.2v-1.8M28.52 421.3v1.8M56.2 528.2v-1.8M56.2 421.3v1.8M83.87 528.2v-1.8M83.87 421.3v1.8M111.55 528.2v-1.8M111.55 421.3v1.8M139.23 528.2v-1.8M139.23 421.3v1.8M166.9 528.2v-1.8M166.9 421.3v1.8M194.58 528.2v-1.8M194.58 421.3v1.8M21.6 528.2h1.8M201.5 528.2h-1.8M21.6 506.82h1.8M201.5 506.82h-1.8M21.6 485.44h1.8M201.5 485.44h-1.8M21.6 464.06h1.8M201.5 464.06h-1.8M21.6 442.68h1.8M201.5 442.68h-1.8M21.6 421.3h1.8M201.5 421.3h-1.8" stroke="#979797" stroke-width="0.7" fill="none"/>
<text x="28.52" y="536.3" text-anchor="middle" font-size="6.2" class="tk">0</text>
<text x="56.2" y="536.3" text-anchor="middle" font-size="6.2" class="tk">4</text>
<text x="83.87" y="536.3" text-anchor="middle" font-size="6.2" class="tk">8</text>
<text x="111.55" y="536.3" text-anchor="middle" font-size="6.2" class="tk">12</text>
<text x="139.23" y="536.3" text-anchor="middle" font-size="6.2" class="tk">16</text>
<text x="166.9" y="536.3" text-anchor="middle" font-size="6.2" class="tk">20</text>
<text x="194.58" y="536.3" text-anchor="middle" font-size="6.2" class="tk">24</text>
<text x="19.8" y="530.4" text-anchor="end" font-size="6.2" class="tk">5</text>
<text x="19.8" y="509.02" text-anchor="end" font-size="6.2" class="tk">10</text>
<text x="19.8" y="487.64" text-anchor="end" font-size="6.2" class="tk">15</text>
<text x="19.8" y="466.26" text-anchor="end" font-size="6.2" class="tk">20</text>
<text x="19.8" y="444.88" text-anchor="end" font-size="6.2" class="tk">25</text>
<text x="19.8" y="423.5" text-anchor="end" font-size="6.2" class="tk">30</text>
<text x="111.55" y="544.1" text-anchor="middle" font-size="6.8">Local time (Hours)</text>
<text transform="translate(11 474.75) rotate(-90)" text-anchor="middle" font-size="6.8">MUF (MHz)</text>
<polyline points="28.52,515.37 35.44,513.96 42.36,515.37 49.28,516.01 56.2,513.96 63.12,518.49 70.03,510.24 76.95,489.72 83.87,479.88 90.79,474.75 97.71,463.2 104.63,460.64 111.55,459.14 118.47,469.19 125.39,471.33 132.31,470.26 139.23,472.18 146.15,474.11 153.07,481.38 159.98,499.98 166.9,509.6 173.82,512.38 180.74,513.53 187.66,514.65 194.58,516.44" fill="none" stroke="#e46464" stroke-width="0.8"/>
<polyline points="28.52,513.23 35.44,510.24 42.36,511.95 49.28,513.96 56.2,511.95 63.12,516.01 70.03,506.39 76.95,486.94 83.87,477.96 90.79,473.04 97.71,461.92 104.63,459.78 111.55,458.07 118.47,467.48 125.39,468.76 132.31,468.76 139.23,470.26 146.15,472.61 153.07,478.6 159.98,498.48 166.9,505.11 173.82,510.88 180.74,511.95 187.66,512.38 194.58,514.65" fill="none" stroke="#6464e4" stroke-width="0.7" stroke-dasharray="1.7 1.6"/>
<polyline points="28.52,513.23 35.44,514.09 42.36,511.22 49.28,509.6 56.2,510.84 63.12,514.82 70.03,505.11 76.95,485.23 83.87,471.76 90.79,470.26 97.71,460.64 104.63,456.96 111.55,453.58 118.47,465.34 125.39,466.2 132.31,467.05 139.23,469.19 146.15,475.39 153.07,469.83 159.98,493.14 166.9,509.13 173.82,506.39 180.74,512.38 187.66,512.38 194.58,513.53" fill="none" stroke="#454545" stroke-width="0.65" stroke-dasharray="1.6 1.5"/>
<path d="M28.52 513.57L26.62 516.61L30.42 516.61Z" fill="#fff" fill-opacity="0.6" stroke="#e45a5a" stroke-width="0.6"/>
<path d="M35.44 512.16L33.54 515.2L37.34 515.2Z" fill="#fff" fill-opacity="0.6" stroke="#e45a5a" stroke-width="0.6"/>
<path d="M42.36 513.57L40.46 516.61L44.26 516.61Z" fill="#fff" fill-opacity="0.6" stroke="#e45a5a" stroke-width="0.6"/>
<path d="M49.28 514.21L47.38 517.25L51.18 517.25Z" fill="#fff" fill-opacity="0.6" stroke="#e45a5a" stroke-width="0.6"/>
<path d="M56.2 512.16L54.3 515.2L58.1 515.2Z" fill="#fff" fill-opacity="0.6" stroke="#e45a5a" stroke-width="0.6"/>
<path d="M63.12 516.69L61.22 519.73L65.02 519.73Z" fill="#fff" fill-opacity="0.6" stroke="#e45a5a" stroke-width="0.6"/>
<path d="M70.03 508.44L68.13 511.48L71.93 511.48Z" fill="#fff" fill-opacity="0.6" stroke="#e45a5a" stroke-width="0.6"/>
<path d="M76.95 487.91L75.05 490.95L78.85 490.95Z" fill="#fff" fill-opacity="0.6" stroke="#e45a5a" stroke-width="0.6"/>
<path d="M83.87 478.08L81.97 481.12L85.77 481.12Z" fill="#fff" fill-opacity="0.6" stroke="#e45a5a" stroke-width="0.6"/>
<path d="M90.79 472.94L88.89 475.99L92.69 475.99Z" fill="#fff" fill-opacity="0.6" stroke="#e45a5a" stroke-width="0.6"/>
<path d="M97.71 461.4L95.81 464.44L99.61 464.44Z" fill="#fff" fill-opacity="0.6" stroke="#e45a5a" stroke-width="0.6"/>
<path d="M104.63 458.83L102.73 461.87L106.53 461.87Z" fill="#fff" fill-opacity="0.6" stroke="#e45a5a" stroke-width="0.6"/>
<path d="M111.55 457.34L109.65 460.38L113.45 460.38Z" fill="#fff" fill-opacity="0.6" stroke="#e45a5a" stroke-width="0.6"/>
<path d="M118.47 467.39L116.57 470.43L120.37 470.43Z" fill="#fff" fill-opacity="0.6" stroke="#e45a5a" stroke-width="0.6"/>
<path d="M125.39 469.52L123.49 472.56L127.29 472.56Z" fill="#fff" fill-opacity="0.6" stroke="#e45a5a" stroke-width="0.6"/>
<path d="M132.31 468.46L130.41 471.5L134.21 471.5Z" fill="#fff" fill-opacity="0.6" stroke="#e45a5a" stroke-width="0.6"/>
<path d="M139.23 470.38L137.33 473.42L141.13 473.42Z" fill="#fff" fill-opacity="0.6" stroke="#e45a5a" stroke-width="0.6"/>
<path d="M146.15 472.3L144.25 475.34L148.05 475.34Z" fill="#fff" fill-opacity="0.6" stroke="#e45a5a" stroke-width="0.6"/>
<path d="M153.07 479.57L151.17 482.61L154.97 482.61Z" fill="#fff" fill-opacity="0.6" stroke="#e45a5a" stroke-width="0.6"/>
<path d="M159.98 498.17L158.08 501.21L161.88 501.21Z" fill="#fff" fill-opacity="0.6" stroke="#e45a5a" stroke-width="0.6"/>
<path d="M166.9 507.79L165 510.83L168.8 510.83Z" fill="#fff" fill-opacity="0.6" stroke="#e45a5a" stroke-width="0.6"/>
<path d="M173.82 510.57L171.92 513.61L175.72 513.61Z" fill="#fff" fill-opacity="0.6" stroke="#e45a5a" stroke-width="0.6"/>
<path d="M180.74 511.73L178.84 514.77L182.64 514.77Z" fill="#fff" fill-opacity="0.6" stroke="#e45a5a" stroke-width="0.6"/>
<path d="M187.66 512.84L185.76 515.88L189.56 515.88Z" fill="#fff" fill-opacity="0.6" stroke="#e45a5a" stroke-width="0.6"/>
<path d="M194.58 514.64L192.68 517.68L196.48 517.68Z" fill="#fff" fill-opacity="0.6" stroke="#e45a5a" stroke-width="0.6"/>
<path d="M27.12 513.23h2.8M28.52 511.9v2.66" stroke="#4646e2" stroke-width="0.85"/>
<path d="M34.04 510.24h2.8M35.44 508.91v2.66" stroke="#4646e2" stroke-width="0.85"/>
<path d="M40.96 511.95h2.8M42.36 510.62v2.66" stroke="#4646e2" stroke-width="0.85"/>
<path d="M47.88 513.96h2.8M49.28 512.63v2.66" stroke="#4646e2" stroke-width="0.85"/>
<path d="M54.8 511.95h2.8M56.2 510.62v2.66" stroke="#4646e2" stroke-width="0.85"/>
<path d="M61.72 516.01h2.8M63.12 514.68v2.66" stroke="#4646e2" stroke-width="0.85"/>
<path d="M68.63 506.39h2.8M70.03 505.06v2.66" stroke="#4646e2" stroke-width="0.85"/>
<path d="M75.55 486.94h2.8M76.95 485.61v2.66" stroke="#4646e2" stroke-width="0.85"/>
<path d="M82.47 477.96h2.8M83.87 476.63v2.66" stroke="#4646e2" stroke-width="0.85"/>
<path d="M89.39 473.04h2.8M90.79 471.71v2.66" stroke="#4646e2" stroke-width="0.85"/>
<path d="M96.31 461.92h2.8M97.71 460.59v2.66" stroke="#4646e2" stroke-width="0.85"/>
<path d="M103.23 459.78h2.8M104.63 458.45v2.66" stroke="#4646e2" stroke-width="0.85"/>
<path d="M110.15 458.07h2.8M111.55 456.74v2.66" stroke="#4646e2" stroke-width="0.85"/>
<path d="M117.07 467.48h2.8M118.47 466.15v2.66" stroke="#4646e2" stroke-width="0.85"/>
<path d="M123.99 468.76h2.8M125.39 467.43v2.66" stroke="#4646e2" stroke-width="0.85"/>
<path d="M130.91 468.76h2.8M132.31 467.43v2.66" stroke="#4646e2" stroke-width="0.85"/>
<path d="M137.83 470.26h2.8M139.23 468.93v2.66" stroke="#4646e2" stroke-width="0.85"/>
<path d="M144.75 472.61h2.8M146.15 471.28v2.66" stroke="#4646e2" stroke-width="0.85"/>
<path d="M151.67 478.6h2.8M153.07 477.27v2.66" stroke="#4646e2" stroke-width="0.85"/>
<path d="M158.58 498.48h2.8M159.98 497.15v2.66" stroke="#4646e2" stroke-width="0.85"/>
<path d="M165.5 505.11h2.8M166.9 503.78v2.66" stroke="#4646e2" stroke-width="0.85"/>
<path d="M172.42 510.88h2.8M173.82 509.55v2.66" stroke="#4646e2" stroke-width="0.85"/>
<path d="M179.34 511.95h2.8M180.74 510.62v2.66" stroke="#4646e2" stroke-width="0.85"/>
<path d="M186.26 512.38h2.8M187.66 511.05v2.66" stroke="#4646e2" stroke-width="0.85"/>
<path d="M193.18 514.65h2.8M194.58 513.32v2.66" stroke="#4646e2" stroke-width="0.85"/>
<circle cx="28.52" cy="513.23" r="1.9" fill="#10f010" stroke="#1a4690" stroke-width="0.7"/>
<circle cx="35.44" cy="514.09" r="1.9" fill="#10f010" stroke="#1a4690" stroke-width="0.7"/>
<circle cx="42.36" cy="511.22" r="1.9" fill="#10f010" stroke="#1a4690" stroke-width="0.7"/>
<circle cx="49.28" cy="509.6" r="1.9" fill="#10f010" stroke="#1a4690" stroke-width="0.7"/>
<circle cx="56.2" cy="510.84" r="1.9" fill="#10f010" stroke="#1a4690" stroke-width="0.7"/>
<circle cx="63.12" cy="514.82" r="1.9" fill="#10f010" stroke="#1a4690" stroke-width="0.7"/>
<circle cx="70.03" cy="505.11" r="1.9" fill="#10f010" stroke="#1a4690" stroke-width="0.7"/>
<circle cx="76.95" cy="485.23" r="1.9" fill="#10f010" stroke="#1a4690" stroke-width="0.7"/>
<circle cx="83.87" cy="471.76" r="1.9" fill="#10f010" stroke="#1a4690" stroke-width="0.7"/>
<circle cx="90.79" cy="470.26" r="1.9" fill="#10f010" stroke="#1a4690" stroke-width="0.7"/>
<circle cx="97.71" cy="460.64" r="1.9" fill="#10f010" stroke="#1a4690" stroke-width="0.7"/>
<circle cx="104.63" cy="456.96" r="1.9" fill="#10f010" stroke="#1a4690" stroke-width="0.7"/>
<circle cx="111.55" cy="453.58" r="1.9" fill="#10f010" stroke="#1a4690" stroke-width="0.7"/>
<circle cx="118.47" cy="465.34" r="1.9" fill="#10f010" stroke="#1a4690" stroke-width="0.7"/>
<circle cx="125.39" cy="466.2" r="1.9" fill="#10f010" stroke="#1a4690" stroke-width="0.7"/>
<circle cx="132.31" cy="467.05" r="1.9" fill="#10f010" stroke="#1a4690" stroke-width="0.7"/>
<circle cx="139.23" cy="469.19" r="1.9" fill="#10f010" stroke="#1a4690" stroke-width="0.7"/>
<circle cx="146.15" cy="475.39" r="1.9" fill="#10f010" stroke="#1a4690" stroke-width="0.7"/>
<circle cx="153.07" cy="469.83" r="1.9" fill="#10f010" stroke="#1a4690" stroke-width="0.7"/>
<circle cx="159.98" cy="493.14" r="1.9" fill="#10f010" stroke="#1a4690" stroke-width="0.7"/>
<circle cx="166.9" cy="509.13" r="1.9" fill="#10f010" stroke="#1a4690" stroke-width="0.7"/>
<circle cx="173.82" cy="506.39" r="1.9" fill="#10f010" stroke="#1a4690" stroke-width="0.7"/>
<circle cx="180.74" cy="512.38" r="1.9" fill="#10f010" stroke="#1a4690" stroke-width="0.7"/>
<circle cx="187.66" cy="512.38" r="1.9" fill="#10f010" stroke="#1a4690" stroke-width="0.7"/>
<circle cx="194.58" cy="513.53" r="1.9" fill="#10f010" stroke="#1a4690" stroke-width="0.7"/>
<rect x="155.3" y="427.1" width="41.9" height="23.6" fill="#b4b4b4"/>
<rect x="154.5" y="426.3" width="41.9" height="23.6" fill="#fff" stroke="#a8a8a8" stroke-width="0.6"/>
<path d="M156.8 431.1H176.8" stroke="#454545" stroke-width="0.65" stroke-dasharray="1.6 1.5"/>
<circle cx="166.8" cy="431.1" r="2.15" fill="#10f010" stroke="#1a4690" stroke-width="0.7"/>
<text x="178.3" y="433.7" font-size="6.5">MOF</text>
<path d="M156.8 438.1H176.8" stroke="#e46464" stroke-width="0.7"/>
<path d="M166.8 436.01L164.6 439.53L169 439.53Z" fill="#fff" fill-opacity="0.6" stroke="#e02828" stroke-width="0.65"/>
<text x="178.3" y="440.7" font-size="6.5">LWM</text>
<path d="M156.8 445.1H176.8" stroke="#6464e4" stroke-width="0.6" stroke-dasharray="1.7 1.6"/>
<path d="M165.2 445.1h3.2M166.8 443.58v3.04" stroke="#4646e2" stroke-width="0.85"/>
<text x="178.3" y="447.7" font-size="6.5">INGV</text>
<text x="49" y="445.4" text-anchor="middle" font-size="8.2" font-weight="bold">(d)</text>
<rect x="238.5" y="5.3" width="180.1" height="106.9" fill="none" stroke="#979797" stroke-width="1"/>
<path d="M245.43 112.2v-1.8M245.43 5.3v1.8M273.13 112.2v-1.8M273.13 5.3v1.8M300.84 112.2v-1.8M300.84 5.3v1.8M328.55 112.2v-1.8M328.55 5.3v1.8M356.26 112.2v-1.8M356.26 5.3v1.8M383.97 112.2v-1.8M383.97 5.3v1.8M411.67 112.2v-1.8M411.67 5.3v1.8M238.5 102.48h1.8M418.6 102.48h-1.8M238.5 83.05h1.8M418.6 83.05h-1.8M238.5 63.61h1.8M418.6 63.61h-1.8M238.5 44.17h1.8M418.6 44.17h-1.8M238.5 24.74h1.8M418.6 24.74h-1.8M238.5 5.3h1.8M418.6 5.3h-1.8" stroke="#979797" stroke-width="0.7" fill="none"/>
<text x="245.43" y="120.3" text-anchor="middle" font-size="6.2" class="tk">0</text>
<text x="273.13" y="120.3" text-anchor="middle" font-size="6.2" class="tk">4</text>
<text x="300.84" y="120.3" text-anchor="middle" font-size="6.2" class="tk">8</text>
<text x="328.55" y="120.3" text-anchor="middle" font-size="6.2" class="tk">12</text>
<text x="356.26" y="120.3" text-anchor="middle" font-size="6.2" class="tk">16</text>
<text x="383.97" y="120.3" text-anchor="middle" font-size="6.2" class="tk">20</text>
<text x="411.67" y="120.3" text-anchor="middle" font-size="6.2" class="tk">24</text>
<text x="237.2" y="105.28" text-anchor="end" font-size="6.2" class="tk">0</text>
<text x="237.2" y="85.85" text-anchor="end" font-size="6.2" class="tk">1</text>
<text x="237.2" y="66.41" text-anchor="end" font-size="6.2" class="tk">2</text>
<text x="237.2" y="46.97" text-anchor="end" font-size="6.2" class="tk">3</text>
<text x="237.2" y="27.54" text-anchor="end" font-size="6.2" class="tk">4</text>
<text x="237.2" y="8.1" text-anchor="end" font-size="6.2" class="tk">5</text>
<text x="328.55" y="128.5" text-anchor="middle" font-size="6.8">Local time (Hours)</text>
<text transform="translate(227.7 58.75) rotate(-90)" text-anchor="middle" font-size="6.6">Predicted deviation of MUF (MHz)</text>
<polyline points="245.43,85.57 252.35,89.07 259.28,94.32 266.21,100.93 273.13,79.35 280.06,81.88 286.99,98.01 293.92,59.53 300.84,93.15 307.77,92.18 314.7,97.43 321.62,97.43 328.55,45.53 335.48,92.76 342.4,80.13 349.33,84.02 356.26,85.96 363.18,95.87 370.11,90.43 377.04,88.1 383.97,76.83 390.89,97.04 397.82,92.18 404.75,99.57 411.67,85.38" fill="none" stroke="#e46464" stroke-width="0.8"/>
<polyline points="245.43,95.87 252.35,99.57 259.28,99.57 266.21,92.18 273.13,91.21 280.06,94.32 286.99,95.87 293.92,66.72 300.84,89.07 307.77,98.4 314.7,100.54 321.62,101.51 328.55,42.23 335.48,92.76 342.4,81.49 349.33,90.43 356.26,80.13 363.18,100.73 370.11,95.48 377.04,95.1 383.97,68.27 390.89,97.62 397.82,101.7 404.75,95.48 411.67,95.48" fill="none" stroke="#6464e4" stroke-width="0.7" stroke-dasharray="1.7 1.6"/>
<path d="M245.43 83.2L242.93 87.2L247.93 87.2Z" fill="#fff" fill-opacity="0.6" stroke="#e02828" stroke-width="0.7"/>
<path d="M252.35 86.7L249.85 90.7L254.85 90.7Z" fill="#fff" fill-opacity="0.6" stroke="#e02828" stroke-width="0.7"/>
<path d="M259.28 91.94L256.78 95.94L261.78 95.94Z" fill="#fff" fill-opacity="0.6" stroke="#e02828" stroke-width="0.7"/>
<path d="M266.21 98.55L263.71 102.55L268.71 102.55Z" fill="#fff" fill-opacity="0.6" stroke="#e02828" stroke-width="0.7"/>
<path d="M273.13 76.98L270.63 80.98L275.63 80.98Z" fill="#fff" fill-opacity="0.6" stroke="#e02828" stroke-width="0.7"/>
<path d="M280.06 79.5L277.56 83.5L282.56 83.5Z" fill="#fff" fill-opacity="0.6" stroke="#e02828" stroke-width="0.7"/>
<path d="M286.99 95.64L284.49 99.64L289.49 99.64Z" fill="#fff" fill-opacity="0.6" stroke="#e02828" stroke-width="0.7"/>
<path d="M293.92 57.15L291.42 61.15L296.42 61.15Z" fill="#fff" fill-opacity="0.6" stroke="#e02828" stroke-width="0.7"/>
<path d="M300.84 90.78L298.34 94.78L303.34 94.78Z" fill="#fff" fill-opacity="0.6" stroke="#e02828" stroke-width="0.7"/>
<path d="M307.77 89.81L305.27 93.81L310.27 93.81Z" fill="#fff" fill-opacity="0.6" stroke="#e02828" stroke-width="0.7"/>
<path d="M314.7 95.05L312.2 99.05L317.2 99.05Z" fill="#fff" fill-opacity="0.6" stroke="#e02828" stroke-width="0.7"/>
<path d="M321.62 95.05L319.12 99.05L324.12 99.05Z" fill="#fff" fill-opacity="0.6" stroke="#e02828" stroke-width="0.7"/>
<path d="M328.55 43.16L326.05 47.16L331.05 47.16Z" fill="#fff" fill-opacity="0.6" stroke="#e02828" stroke-width="0.7"/>
<path d="M335.48 90.39L332.98 94.39L337.98 94.39Z" fill="#fff" fill-opacity="0.6" stroke="#e02828" stroke-width="0.7"/>
<path d="M342.4 77.75L339.9 81.75L344.9 81.75Z" fill="#fff" fill-opacity="0.6" stroke="#e02828" stroke-width="0.7"/>
<path d="M349.33 81.64L346.83 85.64L351.83 85.64Z" fill="#fff" fill-opacity="0.6" stroke="#e02828" stroke-width="0.7"/>
<path d="M356.26 83.59L353.76 87.59L358.76 87.59Z" fill="#fff" fill-opacity="0.6" stroke="#e02828" stroke-width="0.7"/>
<path d="M363.18 93.5L360.68 97.5L365.68 97.5Z" fill="#fff" fill-opacity="0.6" stroke="#e02828" stroke-width="0.7"/>
<path d="M370.11 88.06L367.61 92.06L372.61 92.06Z" fill="#fff" fill-opacity="0.6" stroke="#e02828" stroke-width="0.7"/>
<path d="M377.04 85.72L374.54 89.72L379.54 89.72Z" fill="#fff" fill-opacity="0.6" stroke="#e02828" stroke-width="0.7"/>
<path d="M383.97 74.45L381.47 78.45L386.47 78.45Z" fill="#fff" fill-opacity="0.6" stroke="#e02828" stroke-width="0.7"/>
<path d="M390.89 94.66L388.39 98.66L393.39 98.66Z" fill="#fff" fill-opacity="0.6" stroke="#e02828" stroke-width="0.7"/>
<path d="M397.82 89.81L395.32 93.81L400.32 93.81Z" fill="#fff" fill-opacity="0.6" stroke="#e02828" stroke-width="0.7"/>
<path d="M404.75 97.19L402.25 101.19L407.25 101.19Z" fill="#fff" fill-opacity="0.6" stroke="#e02828" stroke-width="0.7"/>
<path d="M411.67 83L409.17 87L414.17 87Z" fill="#fff" fill-opacity="0.6" stroke="#e02828" stroke-width="0.7"/>
<path d="M243.33 95.87h4.2M245.43 93.88v3.99" stroke="#4646e2" stroke-width="0.85"/>
<path d="M250.25 99.57h4.2M252.35 97.57v3.99" stroke="#4646e2" stroke-width="0.85"/>
<path d="M257.18 99.57h4.2M259.28 97.57v3.99" stroke="#4646e2" stroke-width="0.85"/>
<path d="M264.11 92.18h4.2M266.21 90.19v3.99" stroke="#4646e2" stroke-width="0.85"/>
<path d="M271.03 91.21h4.2M273.13 89.21v3.99" stroke="#4646e2" stroke-width="0.85"/>
<path d="M277.96 94.32h4.2M280.06 92.32v3.99" stroke="#4646e2" stroke-width="0.85"/>
<path d="M284.89 95.87h4.2M286.99 93.88v3.99" stroke="#4646e2" stroke-width="0.85"/>
<path d="M291.82 66.72h4.2M293.92 64.72v3.99" stroke="#4646e2" stroke-width="0.85"/>
<path d="M298.74 89.07h4.2M300.84 87.08v3.99" stroke="#4646e2" stroke-width="0.85"/>
<path d="M305.67 98.4h4.2M307.77 96.41v3.99" stroke="#4646e2" stroke-width="0.85"/>
<path d="M312.6 100.54h4.2M314.7 98.54v3.99" stroke="#4646e2" stroke-width="0.85"/>
<path d="M319.52 101.51h4.2M321.62 99.52v3.99" stroke="#4646e2" stroke-width="0.85"/>
<path d="M326.45 42.23h4.2M328.55 40.23v3.99" stroke="#4646e2" stroke-width="0.85"/>
<path d="M333.38 92.76h4.2M335.48 90.77v3.99" stroke="#4646e2" stroke-width="0.85"/>
<path d="M340.3 81.49h4.2M342.4 79.5v3.99" stroke="#4646e2" stroke-width="0.85"/>
<path d="M347.23 90.43h4.2M349.33 88.44v3.99" stroke="#4646e2" stroke-width="0.85"/>
<path d="M354.16 80.13h4.2M356.26 78.13v3.99" stroke="#4646e2" stroke-width="0.85"/>
<path d="M361.08 100.73h4.2M363.18 98.74v3.99" stroke="#4646e2" stroke-width="0.85"/>
<path d="M368.01 95.48h4.2M370.11 93.49v3.99" stroke="#4646e2" stroke-width="0.85"/>
<path d="M374.94 95.1h4.2M377.04 93.1v3.99" stroke="#4646e2" stroke-width="0.85"/>
<path d="M381.87 68.27h4.2M383.97 66.28v3.99" stroke="#4646e2" stroke-width="0.85"/>
<path d="M388.79 97.62h4.2M390.89 95.63v3.99" stroke="#4646e2" stroke-width="0.85"/>
<path d="M395.72 101.7h4.2M397.82 99.71v3.99" stroke="#4646e2" stroke-width="0.85"/>
<path d="M402.65 95.48h4.2M404.75 93.49v3.99" stroke="#4646e2" stroke-width="0.85"/>
<path d="M409.57 95.48h4.2M411.67 93.49v3.99" stroke="#4646e2" stroke-width="0.85"/>
<rect x="372.4" y="10.9" width="41.6" height="16.4" fill="#b4b4b4"/>
<rect x="371.6" y="10.1" width="41.6" height="16.4" fill="#fff" stroke="#a8a8a8" stroke-width="0.6"/>
<path d="M373.9 14.7H393.9" stroke="#e46464" stroke-width="0.7"/>
<path d="M383.9 12.32L381.4 16.32L386.4 16.32Z" fill="#fff" fill-opacity="0.6" stroke="#e02828" stroke-width="0.65"/>
<text x="395.4" y="17.3" font-size="6.5">LWM</text>
<path d="M373.9 22.3H393.9" stroke="#6464e4" stroke-width="0.6" stroke-dasharray="1.7 1.6"/>
<path d="M381.8 22.3h4.2M383.9 20.3v3.99" stroke="#4646e2" stroke-width="0.85"/>
<text x="395.4" y="24.9" font-size="6.5">INGV</text>
<text x="268.4" y="30.1" text-anchor="middle" font-size="8.2" font-weight="bold">(e)</text>
<rect x="238.5" y="140.4" width="180" height="107" fill="none" stroke="#979797" stroke-width="1"/>
<path d="M245.42 247.4v-1.8M245.42 140.4v1.8M273.12 247.4v-1.8M273.12 140.4v1.8M300.81 247.4v-1.8M300.81 140.4v1.8M328.5 247.4v-1.8M328.5 140.4v1.8M356.19 247.4v-1.8M356.19 140.4v1.8M383.88 247.4v-1.8M383.88 140.4v1.8M411.58 247.4v-1.8M411.58 140.4v1.8M238.5 237.67h1.8M418.5 237.67h-1.8M238.5 218.22h1.8M418.5 218.22h-1.8M238.5 198.76h1.8M418.5 198.76h-1.8M238.5 179.31h1.8M418.5 179.31h-1.8M238.5 159.85h1.8M418.5 159.85h-1.8M238.5 140.4h1.8M418.5 140.4h-1.8" stroke="#979797" stroke-width="0.7" fill="none"/>
<text x="245.42" y="255.5" text-anchor="middle" font-size="6.2" class="tk">0</text>
<text x="273.12" y="255.5" text-anchor="middle" font-size="6.2" class="tk">4</text>
<text x="300.81" y="255.5" text-anchor="middle" font-size="6.2" class="tk">8</text>
<text x="328.5" y="255.5" text-anchor="middle" font-size="6.2" class="tk">12</text>
<text x="356.19" y="255.5" text-anchor="middle" font-size="6.2" class="tk">16</text>
<text x="383.88" y="255.5" text-anchor="middle" font-size="6.2" class="tk">20</text>
<text x="411.58" y="255.5" text-anchor="middle" font-size="6.2" class="tk">24</text>
<text x="237.2" y="240.47" text-anchor="end" font-size="6.2" class="tk">0</text>
<text x="237.2" y="221.02" text-anchor="end" font-size="6.2" class="tk">1</text>
<text x="237.2" y="201.56" text-anchor="end" font-size="6.2" class="tk">2</text>
<text x="237.2" y="182.11" text-anchor="end" font-size="6.2" class="tk">3</text>
<text x="237.2" y="162.65" text-anchor="end" font-size="6.2" class="tk">4</text>
<text x="237.2" y="143.2" text-anchor="end" font-size="6.2" class="tk">5</text>
<text x="328.5" y="263.7" text-anchor="middle" font-size="6.8">Local time (Hours)</text>
<text transform="translate(227.7 193.9) rotate(-90)" text-anchor="middle" font-size="6.6">Predicted deviation of MUF (MHz)</text>
<polyline points="245.42,233.39 252.35,216.27 259.27,231.45 266.19,193.9 273.12,214.72 280.04,212.58 286.96,196.62 293.88,219.39 300.81,224.44 307.73,231.84 314.65,235.53 321.58,233.39 328.5,233.39 335.42,227.75 342.35,223.28 349.27,232.23 356.19,227.17 363.12,230.67 370.04,235.14 376.96,228.33 383.88,236.31 390.81,229.31 397.73,193.71 404.65,194.87 411.58,233.39" fill="none" stroke="#e46464" stroke-width="0.8"/>
<polyline points="245.42,224.44 252.35,226.19 259.27,221.91 266.19,203.63 273.12,204.99 280.04,223.67 286.96,206.93 293.88,228.72 300.81,234.56 307.73,234.95 314.65,226.19 321.58,232.81 328.5,233.78 335.42,220.36 342.35,215.3 349.27,232.81 356.19,217.44 363.12,221.53 370.04,231.06 376.96,222.5 383.88,231.64 390.81,222.5 397.73,202.85 404.65,204.41 411.58,223.86" fill="none" stroke="#6464e4" stroke-width="0.7" stroke-dasharray="1.7 1.6"/>
<path d="M245.42 231.02L242.92 235.02L247.92 235.02Z" fill="#fff" fill-opacity="0.6" stroke="#e02828" stroke-width="0.7"/>
<path d="M252.35 213.9L249.85 217.9L254.85 217.9Z" fill="#fff" fill-opacity="0.6" stroke="#e02828" stroke-width="0.7"/>
<path d="M259.27 229.07L256.77 233.07L261.77 233.07Z" fill="#fff" fill-opacity="0.6" stroke="#e02828" stroke-width="0.7"/>
<path d="M266.19 191.53L263.69 195.53L268.69 195.53Z" fill="#fff" fill-opacity="0.6" stroke="#e02828" stroke-width="0.7"/>
<path d="M273.12 212.34L270.62 216.34L275.62 216.34Z" fill="#fff" fill-opacity="0.6" stroke="#e02828" stroke-width="0.7"/>
<path d="M280.04 210.2L277.54 214.2L282.54 214.2Z" fill="#fff" fill-opacity="0.6" stroke="#e02828" stroke-width="0.7"/>
<path d="M286.96 194.25L284.46 198.25L289.46 198.25Z" fill="#fff" fill-opacity="0.6" stroke="#e02828" stroke-width="0.7"/>
<path d="M293.88 217.01L291.38 221.01L296.38 221.01Z" fill="#fff" fill-opacity="0.6" stroke="#e02828" stroke-width="0.7"/>
<path d="M300.81 222.07L298.31 226.07L303.31 226.07Z" fill="#fff" fill-opacity="0.6" stroke="#e02828" stroke-width="0.7"/>
<path d="M307.73 229.46L305.23 233.46L310.23 233.46Z" fill="#fff" fill-opacity="0.6" stroke="#e02828" stroke-width="0.7"/>
<path d="M314.65 233.16L312.15 237.16L317.15 237.16Z" fill="#fff" fill-opacity="0.6" stroke="#e02828" stroke-width="0.7"/>
<path d="M321.58 231.02L319.08 235.02L324.08 235.02Z" fill="#fff" fill-opacity="0.6" stroke="#e02828" stroke-width="0.7"/>
<path d="M328.5 231.02L326 235.02L331 235.02Z" fill="#fff" fill-opacity="0.6" stroke="#e02828" stroke-width="0.7"/>
<path d="M335.42 225.38L332.92 229.38L337.92 229.38Z" fill="#fff" fill-opacity="0.6" stroke="#e02828" stroke-width="0.7"/>
<path d="M342.35 220.9L339.85 224.9L344.85 224.9Z" fill="#fff" fill-opacity="0.6" stroke="#e02828" stroke-width="0.7"/>
<path d="M349.27 229.85L346.77 233.85L351.77 233.85Z" fill="#fff" fill-opacity="0.6" stroke="#e02828" stroke-width="0.7"/>
<path d="M356.19 224.79L353.69 228.79L358.69 228.79Z" fill="#fff" fill-opacity="0.6" stroke="#e02828" stroke-width="0.7"/>
<path d="M363.12 228.29L360.62 232.29L365.62 232.29Z" fill="#fff" fill-opacity="0.6" stroke="#e02828" stroke-width="0.7"/>
<path d="M370.04 232.77L367.54 236.77L372.54 236.77Z" fill="#fff" fill-opacity="0.6" stroke="#e02828" stroke-width="0.7"/>
<path d="M376.96 225.96L374.46 229.96L379.46 229.96Z" fill="#fff" fill-opacity="0.6" stroke="#e02828" stroke-width="0.7"/>
<path d="M383.88 233.94L381.38 237.94L386.38 237.94Z" fill="#fff" fill-opacity="0.6" stroke="#e02828" stroke-width="0.7"/>
<path d="M390.81 226.93L388.31 230.93L393.31 230.93Z" fill="#fff" fill-opacity="0.6" stroke="#e02828" stroke-width="0.7"/>
<path d="M397.73 191.33L395.23 195.33L400.23 195.33Z" fill="#fff" fill-opacity="0.6" stroke="#e02828" stroke-width="0.7"/>
<path d="M404.65 192.5L402.15 196.5L407.15 196.5Z" fill="#fff" fill-opacity="0.6" stroke="#e02828" stroke-width="0.7"/>
<path d="M411.58 231.02L409.08 235.02L414.08 235.02Z" fill="#fff" fill-opacity="0.6" stroke="#e02828" stroke-width="0.7"/>
<path d="M243.32 224.44h4.2M245.42 222.45v3.99" stroke="#4646e2" stroke-width="0.85"/>
<path d="M250.25 226.19h4.2M252.35 224.2v3.99" stroke="#4646e2" stroke-width="0.85"/>
<path d="M257.17 221.91h4.2M259.27 219.92v3.99" stroke="#4646e2" stroke-width="0.85"/>
<path d="M264.09 203.63h4.2M266.19 201.63v3.99" stroke="#4646e2" stroke-width="0.85"/>
<path d="M271.02 204.99h4.2M273.12 202.99v3.99" stroke="#4646e2" stroke-width="0.85"/>
<path d="M277.94 223.67h4.2M280.04 221.67v3.99" stroke="#4646e2" stroke-width="0.85"/>
<path d="M284.86 206.93h4.2M286.96 204.94v3.99" stroke="#4646e2" stroke-width="0.85"/>
<path d="M291.78 228.72h4.2M293.88 226.73v3.99" stroke="#4646e2" stroke-width="0.85"/>
<path d="M298.71 234.56h4.2M300.81 232.56v3.99" stroke="#4646e2" stroke-width="0.85"/>
<path d="M305.63 234.95h4.2M307.73 232.95v3.99" stroke="#4646e2" stroke-width="0.85"/>
<path d="M312.55 226.19h4.2M314.65 224.2v3.99" stroke="#4646e2" stroke-width="0.85"/>
<path d="M319.48 232.81h4.2M321.58 230.81v3.99" stroke="#4646e2" stroke-width="0.85"/>
<path d="M326.4 233.78h4.2M328.5 231.79v3.99" stroke="#4646e2" stroke-width="0.85"/>
<path d="M333.32 220.36h4.2M335.42 218.36v3.99" stroke="#4646e2" stroke-width="0.85"/>
<path d="M340.25 215.3h4.2M342.35 213.31v3.99" stroke="#4646e2" stroke-width="0.85"/>
<path d="M347.17 232.81h4.2M349.27 230.81v3.99" stroke="#4646e2" stroke-width="0.85"/>
<path d="M354.09 217.44h4.2M356.19 215.44v3.99" stroke="#4646e2" stroke-width="0.85"/>
<path d="M361.02 221.53h4.2M363.12 219.53v3.99" stroke="#4646e2" stroke-width="0.85"/>
<path d="M367.94 231.06h4.2M370.04 229.06v3.99" stroke="#4646e2" stroke-width="0.85"/>
<path d="M374.86 222.5h4.2M376.96 220.5v3.99" stroke="#4646e2" stroke-width="0.85"/>
<path d="M381.78 231.64h4.2M383.88 229.65v3.99" stroke="#4646e2" stroke-width="0.85"/>
<path d="M388.71 222.5h4.2M390.81 220.5v3.99" stroke="#4646e2" stroke-width="0.85"/>
<path d="M395.63 202.85h4.2M397.73 200.85v3.99" stroke="#4646e2" stroke-width="0.85"/>
<path d="M402.55 204.41h4.2M404.65 202.41v3.99" stroke="#4646e2" stroke-width="0.85"/>
<path d="M409.48 223.86h4.2M411.58 221.87v3.99" stroke="#4646e2" stroke-width="0.85"/>
<rect x="372.3" y="146" width="41.6" height="16.4" fill="#b4b4b4"/>
<rect x="371.5" y="145.2" width="41.6" height="16.4" fill="#fff" stroke="#a8a8a8" stroke-width="0.6"/>
<path d="M373.8 149.8H393.8" stroke="#e46464" stroke-width="0.7"/>
<path d="M383.8 147.43L381.3 151.43L386.3 151.43Z" fill="#fff" fill-opacity="0.6" stroke="#e02828" stroke-width="0.65"/>
<text x="395.3" y="152.4" font-size="6.5">LWM</text>
<path d="M373.8 157.4H393.8" stroke="#6464e4" stroke-width="0.6" stroke-dasharray="1.7 1.6"/>
<path d="M381.7 157.4h4.2M383.8 155.41v3.99" stroke="#4646e2" stroke-width="0.85"/>
<text x="395.3" y="160" font-size="6.5">INGV</text>
<text x="268.3" y="160.6" text-anchor="middle" font-size="8.2" font-weight="bold">(f)</text>
<rect x="241.3" y="280.3" width="180.1" height="106.8" fill="none" stroke="#979797" stroke-width="1"/>
<path d="M248.23 387.1v-1.8M248.23 280.3v1.8M275.93 387.1v-1.8M275.93 280.3v1.8M303.64 387.1v-1.8M303.64 280.3v1.8M331.35 387.1v-1.8M331.35 280.3v1.8M359.06 387.1v-1.8M359.06 280.3v1.8M386.77 387.1v-1.8M386.77 280.3v1.8M414.47 387.1v-1.8M414.47 280.3v1.8M241.3 377.39h1.8M421.4 377.39h-1.8M241.3 357.97h1.8M421.4 357.97h-1.8M241.3 338.55h1.8M421.4 338.55h-1.8M241.3 319.14h1.8M421.4 319.14h-1.8M241.3 299.72h1.8M421.4 299.72h-1.8M241.3 280.3h1.8M421.4 280.3h-1.8" stroke="#979797" stroke-width="0.7" fill="none"/>
<text x="248.23" y="395.2" text-anchor="middle" font-size="6.2" class="tk">0</text>
<text x="275.93" y="395.2" text-anchor="middle" font-size="6.2" class="tk">4</text>
<text x="303.64" y="395.2" text-anchor="middle" font-size="6.2" class="tk">8</text>
<text x="331.35" y="395.2" text-anchor="middle" font-size="6.2" class="tk">12</text>
<text x="359.06" y="395.2" text-anchor="middle" font-size="6.2" class="tk">16</text>
<text x="386.77" y="395.2" text-anchor="middle" font-size="6.2" class="tk">20</text>
<text x="414.47" y="395.2" text-anchor="middle" font-size="6.2" class="tk">24</text>
<text x="240" y="380.19" text-anchor="end" font-size="6.2" class="tk">0</text>
<text x="240" y="360.77" text-anchor="end" font-size="6.2" class="tk">1</text>
<text x="240" y="341.35" text-anchor="end" font-size="6.2" class="tk">2</text>
<text x="240" y="321.94" text-anchor="end" font-size="6.2" class="tk">3</text>
<text x="240" y="302.52" text-anchor="end" font-size="6.2" class="tk">4</text>
<text x="240" y="283.1" text-anchor="end" font-size="6.2" class="tk">5</text>
<text x="331.35" y="403" text-anchor="middle" font-size="6.8">Local time (Hours)</text>
<text transform="translate(229.1 333.7) rotate(-90)" text-anchor="middle" font-size="6.6">Predicted deviation of MUF (MHz)</text>
<polyline points="248.23,365.16 255.15,371.57 262.08,364.19 269.01,347.49 275.93,365.16 282.86,363.41 289.79,354.48 296.72,357.58 303.64,340.88 310.57,359.33 317.5,365.16 324.42,358.17 331.35,350.4 338.28,358.75 345.2,350.79 352.13,363.99 359.06,362.63 365.98,368.46 372.91,330.4 379.84,341.27 386.77,369.04 393.69,346.71 400.62,375.25 407.55,363.99 414.47,364.96" fill="none" stroke="#e46464" stroke-width="0.8"/>
<polyline points="248.23,377 255.15,360.69 262.08,375.64 269.01,359.91 275.93,377 282.86,376.61 289.79,366.71 296.72,365.74 303.64,349.04 310.57,366.32 317.5,369.43 324.42,361.66 331.35,353.51 338.28,363.99 345.2,356.42 352.13,369.43 359.06,369.43 365.98,362.63 372.91,337.78 379.84,351.95 386.77,356.42 393.69,360.3 400.62,367.88 407.55,375.25 414.47,376.81" fill="none" stroke="#6464e4" stroke-width="0.7" stroke-dasharray="1.7 1.6"/>
<path d="M248.23 362.78L245.73 366.78L250.73 366.78Z" fill="#fff" fill-opacity="0.6" stroke="#e02828" stroke-width="0.7"/>
<path d="M255.15 369.19L252.65 373.19L257.65 373.19Z" fill="#fff" fill-opacity="0.6" stroke="#e02828" stroke-width="0.7"/>
<path d="M262.08 361.81L259.58 365.81L264.58 365.81Z" fill="#fff" fill-opacity="0.6" stroke="#e02828" stroke-width="0.7"/>
<path d="M269.01 345.11L266.51 349.11L271.51 349.11Z" fill="#fff" fill-opacity="0.6" stroke="#e02828" stroke-width="0.7"/>
<path d="M275.93 362.78L273.43 366.78L278.43 366.78Z" fill="#fff" fill-opacity="0.6" stroke="#e02828" stroke-width="0.7"/>
<path d="M282.86 361.03L280.36 365.03L285.36 365.03Z" fill="#fff" fill-opacity="0.6" stroke="#e02828" stroke-width="0.7"/>
<path d="M289.79 352.1L287.29 356.1L292.29 356.1Z" fill="#fff" fill-opacity="0.6" stroke="#e02828" stroke-width="0.7"/>
<path d="M296.72 355.21L294.22 359.21L299.22 359.21Z" fill="#fff" fill-opacity="0.6" stroke="#e02828" stroke-width="0.7"/>
<path d="M303.64 338.51L301.14 342.51L306.14 342.51Z" fill="#fff" fill-opacity="0.6" stroke="#e02828" stroke-width="0.7"/>
<path d="M310.57 356.96L308.07 360.96L313.07 360.96Z" fill="#fff" fill-opacity="0.6" stroke="#e02828" stroke-width="0.7"/>
<path d="M317.5 362.78L315 366.78L320 366.78Z" fill="#fff" fill-opacity="0.6" stroke="#e02828" stroke-width="0.7"/>
<path d="M324.42 355.79L321.92 359.79L326.92 359.79Z" fill="#fff" fill-opacity="0.6" stroke="#e02828" stroke-width="0.7"/>
<path d="M331.35 348.02L328.85 352.02L333.85 352.02Z" fill="#fff" fill-opacity="0.6" stroke="#e02828" stroke-width="0.7"/>
<path d="M338.28 356.37L335.78 360.37L340.78 360.37Z" fill="#fff" fill-opacity="0.6" stroke="#e02828" stroke-width="0.7"/>
<path d="M345.2 348.41L342.7 352.41L347.7 352.41Z" fill="#fff" fill-opacity="0.6" stroke="#e02828" stroke-width="0.7"/>
<path d="M352.13 361.62L349.63 365.62L354.63 365.62Z" fill="#fff" fill-opacity="0.6" stroke="#e02828" stroke-width="0.7"/>
<path d="M359.06 360.26L356.56 364.26L361.56 364.26Z" fill="#fff" fill-opacity="0.6" stroke="#e02828" stroke-width="0.7"/>
<path d="M365.98 366.08L363.48 370.08L368.48 370.08Z" fill="#fff" fill-opacity="0.6" stroke="#e02828" stroke-width="0.7"/>
<path d="M372.91 328.02L370.41 332.02L375.41 332.02Z" fill="#fff" fill-opacity="0.6" stroke="#e02828" stroke-width="0.7"/>
<path d="M379.84 338.9L377.34 342.9L382.34 342.9Z" fill="#fff" fill-opacity="0.6" stroke="#e02828" stroke-width="0.7"/>
<path d="M386.77 366.67L384.27 370.67L389.27 370.67Z" fill="#fff" fill-opacity="0.6" stroke="#e02828" stroke-width="0.7"/>
<path d="M393.69 344.34L391.19 348.34L396.19 348.34Z" fill="#fff" fill-opacity="0.6" stroke="#e02828" stroke-width="0.7"/>
<path d="M400.62 372.88L398.12 376.88L403.12 376.88Z" fill="#fff" fill-opacity="0.6" stroke="#e02828" stroke-width="0.7"/>
<path d="M407.55 361.62L405.05 365.62L410.05 365.62Z" fill="#fff" fill-opacity="0.6" stroke="#e02828" stroke-width="0.7"/>
<path d="M414.47 362.59L411.97 366.59L416.97 366.59Z" fill="#fff" fill-opacity="0.6" stroke="#e02828" stroke-width="0.7"/>
<path d="M246.13 377h4.2M248.23 375.01v3.99" stroke="#4646e2" stroke-width="0.85"/>
<path d="M253.05 360.69h4.2M255.15 358.7v3.99" stroke="#4646e2" stroke-width="0.85"/>
<path d="M259.98 375.64h4.2M262.08 373.65v3.99" stroke="#4646e2" stroke-width="0.85"/>
<path d="M266.91 359.91h4.2M269.01 357.92v3.99" stroke="#4646e2" stroke-width="0.85"/>
<path d="M273.83 377h4.2M275.93 375.01v3.99" stroke="#4646e2" stroke-width="0.85"/>
<path d="M280.76 376.61h4.2M282.86 374.62v3.99" stroke="#4646e2" stroke-width="0.85"/>
<path d="M287.69 366.71h4.2M289.79 364.72v3.99" stroke="#4646e2" stroke-width="0.85"/>
<path d="M294.62 365.74h4.2M296.72 363.75v3.99" stroke="#4646e2" stroke-width="0.85"/>
<path d="M301.54 349.04h4.2M303.64 347.05v3.99" stroke="#4646e2" stroke-width="0.85"/>
<path d="M308.47 366.32h4.2M310.57 364.33v3.99" stroke="#4646e2" stroke-width="0.85"/>
<path d="M315.4 369.43h4.2M317.5 367.43v3.99" stroke="#4646e2" stroke-width="0.85"/>
<path d="M322.32 361.66h4.2M324.42 359.67v3.99" stroke="#4646e2" stroke-width="0.85"/>
<path d="M329.25 353.51h4.2M331.35 351.51v3.99" stroke="#4646e2" stroke-width="0.85"/>
<path d="M336.18 363.99h4.2M338.28 362v3.99" stroke="#4646e2" stroke-width="0.85"/>
<path d="M343.1 356.42h4.2M345.2 354.42v3.99" stroke="#4646e2" stroke-width="0.85"/>
<path d="M350.03 369.43h4.2M352.13 367.43v3.99" stroke="#4646e2" stroke-width="0.85"/>
<path d="M356.96 369.43h4.2M359.06 367.43v3.99" stroke="#4646e2" stroke-width="0.85"/>
<path d="M363.88 362.63h4.2M365.98 360.64v3.99" stroke="#4646e2" stroke-width="0.85"/>
<path d="M370.81 337.78h4.2M372.91 335.78v3.99" stroke="#4646e2" stroke-width="0.85"/>
<path d="M377.74 351.95h4.2M379.84 349.96v3.99" stroke="#4646e2" stroke-width="0.85"/>
<path d="M384.67 356.42h4.2M386.77 354.42v3.99" stroke="#4646e2" stroke-width="0.85"/>
<path d="M391.59 360.3h4.2M393.69 358.31v3.99" stroke="#4646e2" stroke-width="0.85"/>
<path d="M398.52 367.88h4.2M400.62 365.88v3.99" stroke="#4646e2" stroke-width="0.85"/>
<path d="M405.45 375.25h4.2M407.55 373.26v3.99" stroke="#4646e2" stroke-width="0.85"/>
<path d="M412.37 376.81h4.2M414.47 374.81v3.99" stroke="#4646e2" stroke-width="0.85"/>
<rect x="375.2" y="285.9" width="41.6" height="16.4" fill="#b4b4b4"/>
<rect x="374.4" y="285.1" width="41.6" height="16.4" fill="#fff" stroke="#a8a8a8" stroke-width="0.6"/>
<path d="M376.7 289.7H396.7" stroke="#e46464" stroke-width="0.7"/>
<path d="M386.7 287.33L384.2 291.33L389.2 291.33Z" fill="#fff" fill-opacity="0.6" stroke="#e02828" stroke-width="0.65"/>
<text x="398.2" y="292.3" font-size="6.5">LWM</text>
<path d="M376.7 297.3H396.7" stroke="#6464e4" stroke-width="0.6" stroke-dasharray="1.7 1.6"/>
<path d="M384.6 297.3h4.2M386.7 295.31v3.99" stroke="#4646e2" stroke-width="0.85"/>
<text x="398.2" y="299.9" font-size="6.5">INGV</text>
<text x="268.4" y="302.4" text-anchor="middle" font-size="8.2" font-weight="bold">(g)</text>
<rect x="238.5" y="421.5" width="180" height="106.8" fill="none" stroke="#979797" stroke-width="1"/>
<path d="M245.42 528.3v-1.8M245.42 421.5v1.8M273.12 528.3v-1.8M273.12 421.5v1.8M300.81 528.3v-1.8M300.81 421.5v1.8M328.5 528.3v-1.8M328.5 421.5v1.8M356.19 528.3v-1.8M356.19 421.5v1.8M383.88 528.3v-1.8M383.88 421.5v1.8M411.58 528.3v-1.8M411.58 421.5v1.8M238.5 518.59h1.8M418.5 518.59h-1.8M238.5 499.17h1.8M418.5 499.17h-1.8M238.5 479.75h1.8M418.5 479.75h-1.8M238.5 460.34h1.8M418.5 460.34h-1.8M238.5 440.92h1.8M418.5 440.92h-1.8M238.5 421.5h1.8M418.5 421.5h-1.8" stroke="#979797" stroke-width="0.7" fill="none"/>
<text x="245.42" y="536.4" text-anchor="middle" font-size="6.2" class="tk">0</text>
<text x="273.12" y="536.4" text-anchor="middle" font-size="6.2" class="tk">4</text>
<text x="300.81" y="536.4" text-anchor="middle" font-size="6.2" class="tk">8</text>
<text x="328.5" y="536.4" text-anchor="middle" font-size="6.2" class="tk">12</text>
<text x="356.19" y="536.4" text-anchor="middle" font-size="6.2" class="tk">16</text>
<text x="383.88" y="536.4" text-anchor="middle" font-size="6.2" class="tk">20</text>
<text x="411.58" y="536.4" text-anchor="middle" font-size="6.2" class="tk">24</text>
<text x="237.2" y="521.39" text-anchor="end" font-size="6.2" class="tk">0</text>
<text x="237.2" y="501.97" text-anchor="end" font-size="6.2" class="tk">1</text>
<text x="237.2" y="482.55" text-anchor="end" font-size="6.2" class="tk">2</text>
<text x="237.2" y="463.14" text-anchor="end" font-size="6.2" class="tk">3</text>
<text x="237.2" y="443.72" text-anchor="end" font-size="6.2" class="tk">4</text>
<text x="237.2" y="424.3" text-anchor="end" font-size="6.2" class="tk">5</text>
<text x="328.5" y="544.6" text-anchor="middle" font-size="6.8">Local time (Hours)</text>
<text transform="translate(227.7 474.9) rotate(-90)" text-anchor="middle" font-size="6.6">Predicted deviation of MUF (MHz)</text>
<polyline points="245.42,517.81 252.35,498.01 259.27,514.32 266.19,487.72 273.12,517.81 280.04,514.71 286.96,506.75 293.88,478.98 300.81,493.54 307.73,502.28 314.65,482.47 321.58,513.74 328.5,512.38 335.42,487.91 342.35,482.86 349.27,452.37 356.19,480.14 363.12,496.07 370.04,507.33 376.96,518.01 383.88,512.38 390.81,513.35 397.73,497.62 404.65,494.12 411.58,518.01" fill="none" stroke="#e46464" stroke-width="0.8"/>
<polyline points="245.42,506.36 252.35,508.11 259.27,504.42 266.19,476.84 273.12,505.97 280.04,503.25 286.96,516.45 293.88,493.54 300.81,505.97 307.73,512.57 314.65,493.54 321.58,506.75 328.5,512.77 335.42,494.71 342.35,492.38 349.27,459.17 356.19,485.19 363.12,500.92 370.04,518.01 376.96,508.88 383.88,502.86 390.81,511.21 397.73,486.36 404.65,505.97 411.58,506.55" fill="none" stroke="#6464e4" stroke-width="0.7" stroke-dasharray="1.7 1.6"/>
<path d="M245.42 515.44L242.92 519.44L247.92 519.44Z" fill="#fff" fill-opacity="0.6" stroke="#e02828" stroke-width="0.7"/>
<path d="M252.35 495.63L249.85 499.63L254.85 499.63Z" fill="#fff" fill-opacity="0.6" stroke="#e02828" stroke-width="0.7"/>
<path d="M259.27 511.94L256.77 515.94L261.77 515.94Z" fill="#fff" fill-opacity="0.6" stroke="#e02828" stroke-width="0.7"/>
<path d="M266.19 485.34L263.69 489.34L268.69 489.34Z" fill="#fff" fill-opacity="0.6" stroke="#e02828" stroke-width="0.7"/>
<path d="M273.12 515.44L270.62 519.44L275.62 519.44Z" fill="#fff" fill-opacity="0.6" stroke="#e02828" stroke-width="0.7"/>
<path d="M280.04 512.33L277.54 516.33L282.54 516.33Z" fill="#fff" fill-opacity="0.6" stroke="#e02828" stroke-width="0.7"/>
<path d="M286.96 504.37L284.46 508.37L289.46 508.37Z" fill="#fff" fill-opacity="0.6" stroke="#e02828" stroke-width="0.7"/>
<path d="M293.88 476.6L291.38 480.6L296.38 480.6Z" fill="#fff" fill-opacity="0.6" stroke="#e02828" stroke-width="0.7"/>
<path d="M300.81 491.17L298.31 495.17L303.31 495.17Z" fill="#fff" fill-opacity="0.6" stroke="#e02828" stroke-width="0.7"/>
<path d="M307.73 499.9L305.23 503.9L310.23 503.9Z" fill="#fff" fill-opacity="0.6" stroke="#e02828" stroke-width="0.7"/>
<path d="M314.65 480.1L312.15 484.1L317.15 484.1Z" fill="#fff" fill-opacity="0.6" stroke="#e02828" stroke-width="0.7"/>
<path d="M321.58 511.36L319.08 515.36L324.08 515.36Z" fill="#fff" fill-opacity="0.6" stroke="#e02828" stroke-width="0.7"/>
<path d="M328.5 510L326 514L331 514Z" fill="#fff" fill-opacity="0.6" stroke="#e02828" stroke-width="0.7"/>
<path d="M335.42 485.54L332.92 489.54L337.92 489.54Z" fill="#fff" fill-opacity="0.6" stroke="#e02828" stroke-width="0.7"/>
<path d="M342.35 480.49L339.85 484.49L344.85 484.49Z" fill="#fff" fill-opacity="0.6" stroke="#e02828" stroke-width="0.7"/>
<path d="M349.27 450L346.77 454L351.77 454Z" fill="#fff" fill-opacity="0.6" stroke="#e02828" stroke-width="0.7"/>
<path d="M356.19 477.77L353.69 481.77L358.69 481.77Z" fill="#fff" fill-opacity="0.6" stroke="#e02828" stroke-width="0.7"/>
<path d="M363.12 493.69L360.62 497.69L365.62 497.69Z" fill="#fff" fill-opacity="0.6" stroke="#e02828" stroke-width="0.7"/>
<path d="M370.04 504.95L367.54 508.95L372.54 508.95Z" fill="#fff" fill-opacity="0.6" stroke="#e02828" stroke-width="0.7"/>
<path d="M376.96 515.63L374.46 519.63L379.46 519.63Z" fill="#fff" fill-opacity="0.6" stroke="#e02828" stroke-width="0.7"/>
<path d="M383.88 510L381.38 514L386.38 514Z" fill="#fff" fill-opacity="0.6" stroke="#e02828" stroke-width="0.7"/>
<path d="M390.81 510.97L388.31 514.97L393.31 514.97Z" fill="#fff" fill-opacity="0.6" stroke="#e02828" stroke-width="0.7"/>
<path d="M397.73 495.24L395.23 499.24L400.23 499.24Z" fill="#fff" fill-opacity="0.6" stroke="#e02828" stroke-width="0.7"/>
<path d="M404.65 491.75L402.15 495.75L407.15 495.75Z" fill="#fff" fill-opacity="0.6" stroke="#e02828" stroke-width="0.7"/>
<path d="M411.58 515.63L409.08 519.63L414.08 519.63Z" fill="#fff" fill-opacity="0.6" stroke="#e02828" stroke-width="0.7"/>
<path d="M243.32 506.36h4.2M245.42 504.36v3.99" stroke="#4646e2" stroke-width="0.85"/>
<path d="M250.25 508.11h4.2M252.35 506.11v3.99" stroke="#4646e2" stroke-width="0.85"/>
<path d="M257.17 504.42h4.2M259.27 502.42v3.99" stroke="#4646e2" stroke-width="0.85"/>
<path d="M264.09 476.84h4.2M266.19 474.85v3.99" stroke="#4646e2" stroke-width="0.85"/>
<path d="M271.02 505.97h4.2M273.12 503.97v3.99" stroke="#4646e2" stroke-width="0.85"/>
<path d="M277.94 503.25h4.2M280.04 501.26v3.99" stroke="#4646e2" stroke-width="0.85"/>
<path d="M284.86 516.45h4.2M286.96 514.46v3.99" stroke="#4646e2" stroke-width="0.85"/>
<path d="M291.78 493.54h4.2M293.88 491.55v3.99" stroke="#4646e2" stroke-width="0.85"/>
<path d="M298.71 505.97h4.2M300.81 503.97v3.99" stroke="#4646e2" stroke-width="0.85"/>
<path d="M305.63 512.57h4.2M307.73 510.58v3.99" stroke="#4646e2" stroke-width="0.85"/>
<path d="M312.55 493.54h4.2M314.65 491.55v3.99" stroke="#4646e2" stroke-width="0.85"/>
<path d="M319.48 506.75h4.2M321.58 504.75v3.99" stroke="#4646e2" stroke-width="0.85"/>
<path d="M326.4 512.77h4.2M328.5 510.77v3.99" stroke="#4646e2" stroke-width="0.85"/>
<path d="M333.32 494.71h4.2M335.42 492.71v3.99" stroke="#4646e2" stroke-width="0.85"/>
<path d="M340.25 492.38h4.2M342.35 490.38v3.99" stroke="#4646e2" stroke-width="0.85"/>
<path d="M347.17 459.17h4.2M349.27 457.18v3.99" stroke="#4646e2" stroke-width="0.85"/>
<path d="M354.09 485.19h4.2M356.19 483.2v3.99" stroke="#4646e2" stroke-width="0.85"/>
<path d="M361.02 500.92h4.2M363.12 498.93v3.99" stroke="#4646e2" stroke-width="0.85"/>
<path d="M367.94 518.01h4.2M370.04 516.01v3.99" stroke="#4646e2" stroke-width="0.85"/>
<path d="M374.86 508.88h4.2M376.96 506.89v3.99" stroke="#4646e2" stroke-width="0.85"/>
<path d="M381.78 502.86h4.2M383.88 500.87v3.99" stroke="#4646e2" stroke-width="0.85"/>
<path d="M388.71 511.21h4.2M390.81 509.22v3.99" stroke="#4646e2" stroke-width="0.85"/>
<path d="M395.63 486.36h4.2M397.73 484.36v3.99" stroke="#4646e2" stroke-width="0.85"/>
<path d="M402.55 505.97h4.2M404.65 503.97v3.99" stroke="#4646e2" stroke-width="0.85"/>
<path d="M409.48 506.55h4.2M411.58 504.56v3.99" stroke="#4646e2" stroke-width="0.85"/>
<rect x="372.3" y="427.1" width="41.6" height="16.4" fill="#b4b4b4"/>
<rect x="371.5" y="426.3" width="41.6" height="16.4" fill="#fff" stroke="#a8a8a8" stroke-width="0.6"/>
<path d="M373.8 430.9H393.8" stroke="#e46464" stroke-width="0.7"/>
<path d="M383.8 428.53L381.3 432.53L386.3 432.53Z" fill="#fff" fill-opacity="0.6" stroke="#e02828" stroke-width="0.65"/>
<text x="395.3" y="433.5" font-size="6.5">LWM</text>
<path d="M373.8 438.5H393.8" stroke="#6464e4" stroke-width="0.6" stroke-dasharray="1.7 1.6"/>
<path d="M381.7 438.5h4.2M383.8 436.5v3.99" stroke="#4646e2" stroke-width="0.85"/>
<text x="395.3" y="441.1" font-size="6.5">INGV</text>
<text x="264.6" y="442.8" text-anchor="middle" font-size="8.2" font-weight="bold">(h)</text>
</svg>
</body></html>
